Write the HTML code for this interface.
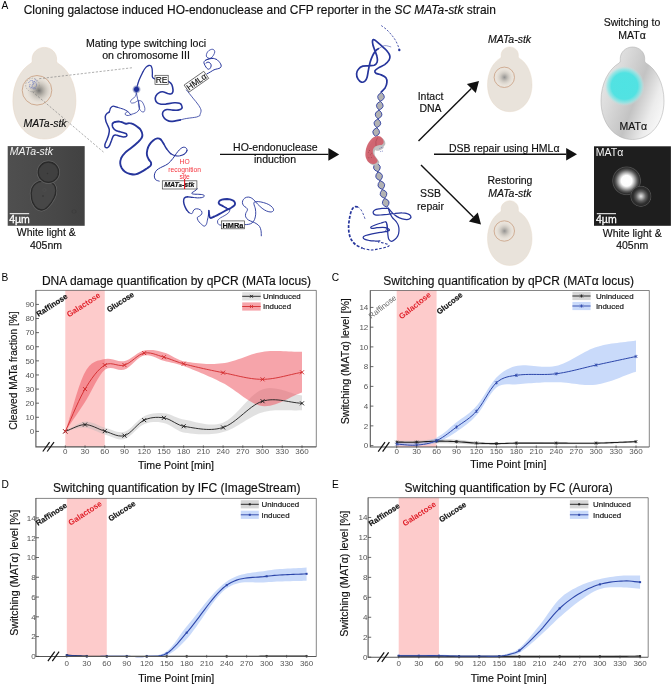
<!DOCTYPE html>
<html><head><meta charset="utf-8"><title>Figure</title>
<style>html,body{margin:0;padding:0;background:#fff}svg{display:block}text{font-family:'Liberation Sans',sans-serif}text[fill="#111"]{stroke:#111;stroke-width:.16px}</style>
</head><body>
<svg width="672" height="685" viewBox="0 0 672 685">
<rect width="672" height="685" fill="#fff"/>
<defs>
  <radialGradient id="nuc" cx="50%" cy="50%" r="50%">
    <stop offset="0" stop-color="#6e6e6e" stop-opacity="0.95"/>
    <stop offset="0.35" stop-color="#8a8780" stop-opacity="0.6"/>
    <stop offset="1" stop-color="#c8c2b8" stop-opacity="0"/>
  </radialGradient>
  <radialGradient id="nuc2" cx="50%" cy="50%" r="50%">
    <stop offset="0" stop-color="#8c8c8c" stop-opacity="0.95"/>
    <stop offset="0.3" stop-color="#a5a29d" stop-opacity="0.7"/>
    <stop offset="1" stop-color="#d8d2c8" stop-opacity="0"/>
  </radialGradient>
  <radialGradient id="cyan" cx="50%" cy="50%" r="50%">
    <stop offset="0" stop-color="#4fe3e3"/>
    <stop offset="0.66" stop-color="#52e2e2"/>
    <stop offset="0.85" stop-color="#8fe6e6" stop-opacity="0.8"/>
    <stop offset="1" stop-color="#c0e8e8" stop-opacity="0"/>
  </radialGradient>
  <linearGradient id="graycell" x1="0" y1="0.25" x2="1" y2="0.8">
    <stop offset="0" stop-color="#e9e9e9"/>
    <stop offset="0.25" stop-color="#dadada"/>
    <stop offset="0.55" stop-color="#c3c3c3"/>
    <stop offset="0.8" stop-color="#ececec"/>
    <stop offset="1" stop-color="#fbfbfb"/>
  </linearGradient>
  <radialGradient id="cen" cx="50%" cy="50%" r="50%">
    <stop offset="0" stop-color="#1f2f9a"/>
    <stop offset="0.45" stop-color="#1f2f9a"/>
    <stop offset="0.7" stop-color="#5060a8" stop-opacity="0.55"/>
    <stop offset="1" stop-color="#8088b0" stop-opacity="0"/>
  </radialGradient>
  <radialGradient id="glow1" cx="50%" cy="50%" r="50%">
    <stop offset="0" stop-color="#ffffff"/>
    <stop offset="0.36" stop-color="#fdfdfd"/>
    <stop offset="0.52" stop-color="#b8b8b8"/>
    <stop offset="0.72" stop-color="#5a5a5a"/>
    <stop offset="0.86" stop-color="#2e2e2e"/>
    <stop offset="0.93" stop-color="#4c4c4c"/>
    <stop offset="1" stop-color="#1e1e1e" stop-opacity="0"/>
  </radialGradient>
  <radialGradient id="glow2" cx="50%" cy="50%" r="50%">
    <stop offset="0" stop-color="#e6e6e6"/>
    <stop offset="0.18" stop-color="#b5b5b5"/>
    <stop offset="0.45" stop-color="#606060"/>
    <stop offset="0.7" stop-color="#303030"/>
    <stop offset="0.84" stop-color="#2a2a2a"/>
    <stop offset="0.92" stop-color="#505050"/>
    <stop offset="1" stop-color="#1e1e1e" stop-opacity="0"/>
  </radialGradient>
  <symbol id="yeast" viewBox="0 0 66 96" overflow="visible">
    <path d="M33,0 C40,0 45.8,5.4 45.8,12 C45.8,14.2 45.4,15.4 47,16.6 C58,23 66,38 66,56 C66,79 52,96 33,96 C14,96 0,79 0,56 C0,38 8,23 19,16.6 C20.6,15.4 20.2,14.2 20.2,12 C20.2,5.4 26,0 33,0 Z" fill="#e9e3db" stroke="#e6d6c6" stroke-width="0.6"/>
  </symbol>
</defs>

<!-- titles -->
<text x="1.4" y="8.9" font-size="10.2" fill="#000">A</text>
<text x="23.7" y="13.6" font-size="11.94" fill="#111">Cloning galactose induced HO-endonuclease and CFP reporter in the <tspan font-style="italic">SC MATa-stk</tspan> strain</text>

<!-- left yeast cell -->
<use href="#yeast" x="12.9" y="46.4" width="63" height="93.6"/>
<circle cx="39" cy="90.6" r="12.5" fill="url(#nuc)"/>
<circle cx="37" cy="90.3" r="14.8" fill="none" stroke="#c9a083" stroke-width="0.85"/>
<circle cx="32.5" cy="85" r="6.8" fill="none" stroke="#8a8a8a" stroke-width="0.5" stroke-dasharray="1.6,1.2"/>
<path d="M28.5,83 q1.5,-3 4,-2.4 q2.6,0.8 1,3.4 q-2.4,1.8 -0.6,3.6 q2.6,0.8 3.6,-1.8 q0.2,-3.6 -2.6,-4.6 m-3.6,2.8 q-1.8,2.6 0.8,4.6 m3.5,-9.5 q2,1 2.5,3 m-6,5 q2,2.5 4.5,1.5 m-3,-7 q1,2 0,3.5" fill="none" stroke="#3f55b8" stroke-width="0.55" stroke-dasharray="1.3,0.7"/>
<line x1="39.2" y1="78.7" x2="132.5" y2="67.7" stroke="#777" stroke-width="0.6" stroke-dasharray="2.2,1.6"/>
<line x1="32.3" y1="91.6" x2="104" y2="152.5" stroke="#777" stroke-width="0.6" stroke-dasharray="2.2,1.6"/>
<text x="45" y="126.8" font-size="10.5" font-style="italic" fill="#111" text-anchor="middle">MATa-stk</text>

<!-- left microscopy -->
<linearGradient id="micbg" x1="0" y1="0" x2="1" y2="0"><stop offset="0" stop-color="#4f4f4f"/><stop offset="0.6" stop-color="#484848"/><stop offset="1" stop-color="#414141"/></linearGradient>
<filter id="b04" x="-20%" y="-20%" width="140%" height="140%"><feGaussianBlur stdDeviation="0.45"/></filter>
<rect x="7.7" y="146.1" width="77" height="79.7" fill="url(#micbg)"/>
<g filter="url(#b04)">
<path d="M42.2,181.2 C47,180.6 51.5,181.8 54,184.6 C56.4,187.4 56.4,193.5 54,198 C52,202 50,204.5 48.2,206.4 C46,208.8 43.8,210.2 41.4,210 C38.6,209.8 36.6,208.6 35,206.4 C33.2,204 32,201.4 31.6,198.6 C31,195 31,191.4 32,188.6 C33.4,185 37.5,181.8 42.2,181.2Z" fill="#444" stroke="#626262" stroke-width="2.8"/>
<path d="M42.2,181.2 C47,180.6 51.5,181.8 54,184.6 C56.4,187.4 56.4,193.5 54,198 C52,202 50,204.5 48.2,206.4 C46,208.8 43.8,210.2 41.4,210 C38.6,209.8 36.6,208.6 35,206.4 C33.2,204 32,201.4 31.6,198.6 C31,195 31,191.4 32,188.6 C33.4,185 37.5,181.8 42.2,181.2Z" fill="#464646" stroke="#2a2a2a" stroke-width="1.3"/>
<circle cx="48.4" cy="172.2" r="10.2" fill="#3d3d3d" stroke="#626262" stroke-width="2.8"/>
<circle cx="48.4" cy="172.2" r="10.2" fill="#3f3f3f" stroke="#2a2a2a" stroke-width="1.3"/>
<circle cx="43" cy="196" r="0.7" fill="#2e2e2e"/><circle cx="44.5" cy="190" r="1.6" fill="none" stroke="#555" stroke-width="0.5"/>
<circle cx="47.5" cy="173.5" r="0.8" fill="#333"/>
<circle cx="74" cy="211.5" r="2" fill="none" stroke="#3c3c3c" stroke-width="0.7"/>
</g>
<text x="9.8" y="155.4" font-size="10.5" font-style="italic" fill="#f2f2f2">MATa-stk</text>
<line x1="9.7" y1="213.7" x2="29.2" y2="213.7" stroke="#fff" stroke-width="1"/>
<text x="9.2" y="223" font-size="10.5" fill="#fff" stroke="#fff" stroke-width="0.3">4µm</text>
<text x="46.3" y="235.8" font-size="10.5" fill="#111" text-anchor="middle">White light &amp;</text>
<text x="46" y="249" font-size="10.5" fill="#111" text-anchor="middle">405nm</text>

<!-- mating type text -->
<text x="146" y="46.6" font-size="10.6" fill="#111" text-anchor="middle">Mating type switching loci</text>
<text x="146" y="58.8" font-size="10.6" fill="#111" text-anchor="middle">on chromosome III</text>

<path d="M136.5,89.4 C136.8,88.2 137.6,84.2 138.4,82.0 C139.1,79.8 140.1,77.9 140.9,76.0 C141.8,74.2 142.6,72.3 143.5,70.8 C144.3,69.3 145.2,68.0 146.1,67.1 C147.0,66.2 148.0,65.7 148.8,65.5 C149.6,65.3 150.3,65.3 150.9,65.8 C151.4,66.3 151.8,67.4 152.1,68.6 C152.3,69.8 152.3,71.7 152.4,73.1 C152.4,74.4 152.1,75.9 152.4,76.8 C152.6,77.7 153.4,78.2 153.9,78.6 C154.4,79.0 155.1,79.1 155.4,79.2" fill="none" stroke="#26359c" stroke-width="1.3" stroke-linecap="round" stroke-linejoin="round" />
<path d="M168.2,81.2 C168.7,81.6 170.4,82.5 171.1,83.5 C171.9,84.5 172.3,85.8 172.6,87.2 C172.9,88.6 173.2,90.5 172.9,91.7 C172.6,92.8 171.6,93.8 170.7,94.0 C169.8,94.3 169.1,93.8 167.7,93.5 C166.3,93.1 164.0,91.8 162.5,91.7 C161.0,91.6 159.9,92.1 158.8,92.9 C157.7,93.6 156.4,95.0 155.8,96.1 C155.2,97.3 155.1,98.7 155.4,99.9 C155.6,101.0 156.3,102.1 157.3,102.8 C158.2,103.5 159.6,103.9 161.0,104.2 C162.4,104.4 163.2,104.4 165.5,104.2 C167.7,103.9 172.0,103.0 174.4,102.8 C176.8,102.7 178.4,102.8 179.6,103.3 C180.9,103.8 181.5,104.9 181.8,105.8 C182.2,106.7 182.2,108.1 181.5,108.8 C180.9,109.5 179.6,109.9 178.1,110.1 C176.7,110.3 174.8,110.2 172.9,110.1 C171.1,110.0 168.5,109.4 167.0,109.5 C165.4,109.7 164.4,110.3 163.7,111.0 C162.9,111.8 162.5,112.9 162.5,114.0 C162.5,115.1 163.2,116.7 164.0,117.7 C164.7,118.8 165.7,119.6 167.0,120.2 C168.2,120.9 169.2,121.5 171.4,121.4 C173.7,121.4 178.9,120.2 180.4,119.9" fill="none" stroke="#26359c" stroke-width="1.6" stroke-linecap="round" stroke-linejoin="round" />
<path d="M180.4,119.9 C181.3,119.7 184.3,118.8 186.3,118.5 C188.3,118.1 190.5,118.0 192.3,117.7 C194.0,117.5 195.4,117.3 196.7,117.0 C198.0,116.6 199.4,115.9 200.0,115.5 C200.6,115.0 200.0,115.3 200.1,114.4 C200.3,113.5 201.4,111.7 201.0,109.9 C200.6,108.2 199.0,105.8 197.7,104.0 C196.5,102.2 195.0,100.7 193.6,98.9 C192.2,97.2 190.6,95.1 189.4,93.6 C188.2,92.1 186.9,90.6 186.4,90.0" fill="none" stroke="#26359c" stroke-width="0.8" stroke-linecap="round" stroke-linejoin="round" />
<path d="M206.9,73.9 C207.5,73.6 209.3,72.6 210.5,71.9 C211.7,71.2 212.9,70.3 214.0,69.8 C215.2,69.2 216.6,69.1 217.6,68.8 C218.6,68.5 219.4,68.4 220.0,68.0 C220.6,67.5 221.1,66.9 221.2,66.2 C221.3,65.5 221.0,64.6 220.6,63.8 C220.2,63.0 219.4,62.1 218.8,61.4 C218.2,60.7 217.7,60.1 217.0,59.6 C216.3,59.2 215.5,58.9 214.6,58.7 C213.8,58.5 212.8,58.4 211.7,58.5 C210.6,58.6 209.2,58.9 208.1,59.3 C207.0,59.6 205.8,59.9 205.1,60.5 C204.4,61.0 203.9,61.8 203.9,62.6 C203.9,63.5 204.6,64.6 205.1,65.6 C205.6,66.5 206.2,67.7 206.9,68.3 C207.6,68.9 208.4,69.4 209.0,69.2 C209.7,69.0 210.5,67.9 210.8,67.1 C211.2,66.4 211.2,65.5 211.1,64.8 C210.9,64.0 210.4,63.3 209.9,62.9 C209.3,62.4 208.5,62.1 207.9,62.1 C207.2,62.2 206.3,62.9 206.0,63.1" fill="none" stroke="#26359c" stroke-width="1.0" stroke-linecap="round" stroke-linejoin="round" />
<path d="M205.7,60.2 C206.1,60.0 207.2,59.4 208.1,59.0 C209.0,58.7 210.2,58.5 211.1,57.9 C212.0,57.2 212.8,56.2 213.5,55.2 C214.1,54.2 214.7,52.8 214.8,51.9 C214.8,51.0 214.3,50.2 213.8,49.8 C213.3,49.3 212.5,49.1 211.7,49.3 C210.8,49.4 209.5,50.1 208.7,50.7 C207.9,51.3 207.3,52.2 206.9,53.1 C206.5,54.0 206.2,55.3 206.3,56.1 C206.5,56.9 207.2,57.5 207.9,57.9 C208.6,58.3 209.6,58.4 210.5,58.5 C211.3,58.5 212.5,58.2 212.9,58.1" fill="none" stroke="#26359c" stroke-width="0.8" stroke-linecap="round" stroke-linejoin="round" />
<path d="M136.5,89.4 C136.4,90.1 136.3,92.0 136.2,93.2 C136.0,94.3 136.0,95.5 135.4,96.4 C134.8,97.4 133.3,98.0 132.4,98.8 C131.6,99.6 130.7,100.6 130.5,101.3 C130.4,102.0 130.9,102.8 131.5,103.0 C132.2,103.2 133.4,103.1 134.5,102.7 C135.7,102.3 137.2,100.8 138.4,100.6 C139.6,100.4 140.7,100.6 141.7,101.3 C142.6,102.1 143.4,103.8 143.9,105.1 C144.4,106.3 144.9,107.7 144.9,108.8 C145.0,109.9 144.6,111.3 144.0,111.8 C143.5,112.2 142.4,112.1 141.7,111.6 C140.9,111.1 140.0,109.9 139.4,108.8 C138.9,107.7 138.5,106.3 138.4,105.1 C138.3,103.8 138.6,102.0 138.7,101.3" fill="none" stroke="#26359c" stroke-width="0.7" stroke-linecap="round" stroke-linejoin="round" />
<path d="M136.5,93.2 C136.6,94.0 137.1,96.6 137.5,98.4 C137.9,100.1 138.6,102.0 139.0,103.6 C139.3,105.2 139.8,106.7 139.6,108.0 C139.4,109.3 138.7,110.4 137.9,111.3 C137.2,112.2 136.0,112.7 135.0,113.2 C133.9,113.7 132.7,113.9 131.5,114.3 C130.4,114.7 129.3,115.4 128.3,115.5 C127.3,115.6 126.1,115.3 125.6,114.9 C125.1,114.5 125.0,113.8 125.3,113.2 C125.6,112.7 127.2,112.0 127.5,111.8" fill="none" stroke="#26359c" stroke-width="0.8" stroke-linecap="round" stroke-linejoin="round" />
<path d="M130.9,114.9 C130.4,114.3 129.2,112.5 127.9,111.6 C126.7,110.7 125.2,109.9 123.5,109.2 C121.7,108.5 119.3,107.9 117.5,107.4" fill="none" stroke="#26359c" stroke-width="1.0" stroke-linecap="round" stroke-linejoin="round"/>
<path d="M117.5,107.4 C115.8,106.9 114.2,106.1 113.1,106.2 C111.9,106.4 111.2,107.2 110.5,108.2 C109.9,109.1 110.0,111.0 109.3,111.9" fill="none" stroke="#26359c" stroke-width="1.25" stroke-linecap="round" stroke-linejoin="round"/>
<path d="M109.3,111.9 C108.7,112.8 107.3,112.9 106.7,113.7 C106.0,114.4 105.5,115.2 105.3,116.4 C105.2,117.6 105.4,119.3 105.8,120.8 C106.1,122.3 107.0,123.8 107.6,125.3 C108.2,126.8 109.2,128.1 109.3,129.8 C109.5,131.4 109.0,133.2 108.6,135.0 C108.2,136.7 107.3,138.6 106.7,140.2 C106.0,141.8 105.1,143.5 104.9,144.6 C104.7,145.8 104.9,146.8 105.3,147.3 C105.8,147.8 106.8,147.9 107.6,147.6 C108.3,147.3 109.0,146.6 109.6,145.4 C110.3,144.1 110.9,141.8 111.6,140.2 C112.2,138.6 112.8,136.6 113.5,135.7 C114.3,134.8 115.0,134.9 116.0,135.0 C117.1,135.0 118.5,135.8 119.8,136.2 C121.0,136.5 122.4,136.9 123.5,136.9 C124.6,136.9 126.0,136.7 126.5,136.2 C127.0,135.7 127.0,134.5 126.5,133.9 C126.0,133.4 124.7,133.1 123.5,132.7 C122.2,132.3 120.4,132.0 119.0,131.5" fill="none" stroke="#26359c" stroke-width="1.5" stroke-linecap="round" stroke-linejoin="round"/>
<path d="M119.0,131.5 C117.7,131.1 116.4,130.9 115.3,130.1 C114.2,129.3 113.1,127.9 112.6,126.8 C112.2,125.7 112.2,124.3 112.6,123.5" fill="none" stroke="#26359c" stroke-width="1.6" stroke-linecap="round" stroke-linejoin="round"/>
<path d="M112.6,123.5 C113.1,122.7 114.1,122.2 115.3,121.9" fill="none" stroke="#26359c" stroke-width="1.75" stroke-linecap="round" stroke-linejoin="round"/>
<path d="M115.3,121.9 C116.5,121.6 118.4,121.4 119.8,121.6 C121.1,121.7 122.4,122.4 123.5,122.8 C124.6,123.1 125.5,123.8 126.5,123.8 C127.5,123.9 128.3,123.0 129.4,123.1 C130.6,123.1 131.8,123.5 133.2,124.1 C134.5,124.7 136.1,125.8 137.3,126.8 C138.6,127.7 139.8,128.4 140.6,129.8 C141.4,131.1 142.3,133.5 142.4,135.0 C142.5,136.4 142.0,137.3 141.3,138.4 C140.7,139.5 140.0,140.1 138.4,141.7 C136.8,143.2 133.9,145.8 131.7,147.6 C129.4,149.5 126.7,151.1 125.0,152.8 C123.2,154.6 122.0,156.3 121.2,158.0 C120.5,159.8 120.2,161.6 120.2,163.2 C120.3,164.9 120.8,166.3 121.5,167.7 C122.3,169.1 123.5,170.7 125.0,171.7 C126.4,172.8 128.4,173.5 130.2,174.0 C131.9,174.4 133.5,174.8 135.4,174.4 C137.2,174.1 139.4,172.9 141.3,171.9 C143.3,170.8 145.7,169.2 147.3,168.2 C148.9,167.1 150.1,166.4 150.7,165.5 C151.3,164.5 151.3,163.5 151.0,162.5 C150.7,161.5 149.4,160.8 148.8,159.5 C148.1,158.3 147.2,156.7 147.0,155.1 C146.7,153.4 146.9,151.6 147.3,149.9 C147.7,148.1 148.5,146.2 149.5,144.6 C150.5,143.1 152.0,141.5 153.2,140.5 C154.5,139.4 156.0,138.6 157.3,138.4 C158.5,138.2 159.6,138.5 160.7,139.4" fill="none" stroke="#26359c" stroke-width="1.9" stroke-linecap="round" stroke-linejoin="round"/>
<path d="M160.7,139.4 C161.8,140.4 162.7,142.3 163.7,143.9" fill="none" stroke="#26359c" stroke-width="1.7" stroke-linecap="round" stroke-linejoin="round"/>
<path d="M163.7,143.9 C164.7,145.5 165.4,147.1 166.6,148.8" fill="none" stroke="#26359c" stroke-width="1.5" stroke-linecap="round" stroke-linejoin="round"/>
<path d="M166.6,148.8 C167.9,150.5 169.6,152.7 171.1,153.9" fill="none" stroke="#26359c" stroke-width="1.3" stroke-linecap="round" stroke-linejoin="round"/>
<path d="M171.1,153.9 C172.6,155.0 174.1,155.5 175.6,155.8 C177.1,156.1 178.5,156.0 180.0,155.7 C181.5,155.3 183.3,154.7 184.5,153.9 C185.7,153.0 186.8,151.6 187.0,150.6" fill="none" stroke="#26359c" stroke-width="1.15" stroke-linecap="round" stroke-linejoin="round"/>
<path d="M187.0,150.6 C187.3,149.6 186.7,148.5 186.0,147.9 C185.3,147.4 184.1,147.0 183.0,147.3 C181.9,147.6 180.4,148.8 179.3,149.9 C178.2,150.9 177.4,152.2 176.3,153.6 C175.3,155.0 174.4,156.6 173.0,158.3 C171.7,160.0 169.8,162.3 168.1,163.7 C166.4,165.1 164.5,165.7 162.9,166.5 C161.3,167.4 159.7,167.9 158.5,168.8 C157.2,169.6 156.2,170.5 155.5,171.7 C154.8,172.9 154.3,174.6 154.3,175.9 C154.3,177.2 154.7,178.7 155.5,179.6 C156.3,180.5 158.6,180.9 159.2,181.1" fill="none" stroke="#26359c" stroke-width="1.0" stroke-linecap="round" stroke-linejoin="round"/>
<path d="M197.3,188.9 C196.9,189.3 195.6,190.3 194.6,191.0 C193.7,191.7 191.8,192.6 191.7,193.1 C191.5,193.6 192.4,193.9 193.6,194.1 C194.8,194.3 197.2,194.2 198.8,194.3 C200.4,194.4 202.4,194.5 203.3,194.9 C204.2,195.2 204.4,195.9 204.2,196.4 C203.9,196.8 202.9,197.3 201.8,197.6 C200.6,197.8 198.9,197.9 197.3,197.9 C195.7,197.8 193.7,197.4 192.1,197.3" fill="none" stroke="#26359c" stroke-width="1.0" stroke-linecap="round" stroke-linejoin="round"/>
<path d="M192.1,197.3 C190.5,197.1 189.0,196.7 187.6,196.8" fill="none" stroke="#26359c" stroke-width="1.2" stroke-linecap="round" stroke-linejoin="round"/>
<path d="M187.6,196.8 C186.3,197.0 184.9,197.4 184.2,198.2 C183.6,198.9 183.6,200.3 183.6,201.6 C183.7,202.9 184.2,204.7 184.7,206.0 C185.2,207.4 185.9,208.6 186.6,209.8" fill="none" stroke="#26359c" stroke-width="1.45" stroke-linecap="round" stroke-linejoin="round"/>
<path d="M186.6,209.8 C187.4,210.9 188.2,212.1 189.1,212.7" fill="none" stroke="#26359c" stroke-width="1.2" stroke-linecap="round" stroke-linejoin="round"/>
<path d="M189.1,212.7 C190.1,213.4 191.4,213.8 192.1,213.5 C192.8,213.2 192.7,211.7 193.2,211.0 C193.7,210.2 194.2,209.3 195.1,209.0 C196.0,208.7 197.4,208.7 198.5,209.0 C199.6,209.3 200.9,210.1 201.5,211.0 C202.0,211.8 202.1,213.1 201.8,213.9 C201.5,214.8 200.3,215.4 199.6,216.0 C198.8,216.6 197.6,216.8 197.3,217.5 C197.1,218.2 197.5,219.5 198.1,220.5 C198.6,221.5 199.6,222.5 200.6,223.5 C201.6,224.4 203.1,225.9 204.0,226.1 C205.0,226.3 205.7,225.6 206.2,224.6 C206.8,223.7 207.1,221.8 207.4,220.2 C207.8,218.6 208.2,216.6 208.5,215.0" fill="none" stroke="#26359c" stroke-width="0.9" stroke-linecap="round" stroke-linejoin="round"/>
<path d="M208.5,215.0 C208.7,213.4 208.8,210.5 208.9,210.5" fill="none" stroke="#26359c" stroke-width="1.2" stroke-linecap="round" stroke-linejoin="round"/>
<path d="M208.9,210.5 C209.1,210.5 209.0,213.7 209.2,215.0" fill="none" stroke="#26359c" stroke-width="1.6" stroke-linecap="round" stroke-linejoin="round"/>
<path d="M209.2,215.0 C209.5,216.2 209.5,217.7 210.4,217.9 C211.3,218.2 212.9,217.1 214.4,216.5 C216.0,215.8 217.8,214.9 219.6,213.9 C221.5,212.9 223.7,211.5 225.6,210.5 C227.5,209.5 229.3,208.8 230.8,208.0 C232.3,207.1 233.9,206.2 234.5,205.3 C235.2,204.4 235.2,203.2 234.8,202.3 C234.4,201.5 233.6,200.6 232.3,200.1 C231.0,199.5 228.8,199.1 227.1,199.0 C225.3,199.0 223.2,199.2 221.9,199.6 C220.5,200.1 219.3,200.8 218.9,201.6 C218.5,202.3 218.7,203.4 219.3,204.1 C220.0,204.9 221.5,205.4 222.6,206.0" fill="none" stroke="#26359c" stroke-width="1.9" stroke-linecap="round" stroke-linejoin="round"/>
<path d="M222.6,206.0 C223.8,206.7 225.1,207.4 226.3,208.0" fill="none" stroke="#26359c" stroke-width="1.5" stroke-linecap="round" stroke-linejoin="round"/>
<path d="M226.3,208.0 C227.5,208.5 229.4,208.7 229.8,209.5" fill="none" stroke="#26359c" stroke-width="1.1" stroke-linecap="round" stroke-linejoin="round"/>
<path d="M229.8,209.5 C230.1,210.3 229.4,211.7 228.6,212.7 C227.8,213.7 226.2,214.5 224.9,215.4 C223.5,216.3 221.6,217.1 220.4,217.9 C219.2,218.8 218.1,219.6 217.7,220.5 C217.3,221.4 217.5,222.7 217.9,223.5 C218.2,224.2 219.0,224.7 219.6,224.9 C220.3,225.2 221.5,225.1 221.9,225.1" fill="none" stroke="#26359c" stroke-width="0.8" stroke-linecap="round" stroke-linejoin="round"/>
<path d="M244.6,224.6 C245.3,224.6 247.4,224.6 248.7,224.3 C249.9,224.0 251.1,223.7 252.1,222.9 C253.1,222.0 254.0,220.9 254.6,219.4 C255.2,218.0 255.5,216.0 255.7,214.2 C255.8,212.5 255.7,210.8 255.4,209.0 C255.1,207.3 254.0,205.0 253.9,203.8 C253.7,202.6 253.9,202.4 254.6,202.0 C255.4,201.7 256.8,201.5 258.3,201.6 C259.8,201.7 261.8,202.1 263.5,202.6 C265.3,203.1 267.3,203.7 268.8,204.6 C270.2,205.4 271.7,206.5 272.5,207.5 C273.3,208.5 273.8,209.8 273.5,210.5 C273.3,211.2 272.1,211.9 271.0,212.0 C269.8,212.1 268.0,211.6 266.5,211.0 C265.0,210.3 263.5,209.4 262.1,208.3 C260.6,207.1 259.0,205.5 257.6,204.1 C256.2,202.7 254.8,200.8 253.6,199.6 C252.3,198.5 251.3,197.8 250.1,197.4 C249.0,197.0 247.5,196.9 246.4,197.3 C245.3,197.6 244.1,198.5 243.5,199.3 C242.8,200.2 242.4,201.3 242.4,202.3 C242.4,203.4 242.8,204.7 243.5,205.6 C244.1,206.5 245.5,206.8 246.1,207.5 C246.8,208.2 247.5,208.8 247.5,209.8 C247.4,210.8 246.0,212.3 245.7,213.5 C245.4,214.7 245.3,215.8 245.7,216.9 C246.1,218.0 247.1,219.1 248.2,219.9 C249.3,220.7 251.1,221.1 252.4,221.7 C253.7,222.3 254.9,222.7 256.1,223.5 C257.3,224.2 258.7,225.2 259.5,226.4 C260.3,227.6 260.7,229.0 261.0,230.6 C261.3,232.2 261.3,234.9 261.3,235.8" fill="none" stroke="#26359c" stroke-width="0.9" stroke-linecap="round" stroke-linejoin="round" />
<circle cx="136.5" cy="89.4" r="4.6" fill="url(#cen)"/>
<rect x="155" y="75.3" width="13.2" height="9.2" fill="#fafafa" stroke="#444" stroke-width="0.7"/>
<text x="161.6" y="83" font-size="8.4" fill="#111" text-anchor="middle">RE</text>
<g transform="translate(196.4,81.7) rotate(-35)"><rect x="-12" y="-4.3" width="24" height="8.6" fill="#fafafa" stroke="#444" stroke-width="0.7"/><text x="0" y="3" font-size="8.3" fill="#111" text-anchor="middle">HMLα</text></g>
<rect x="162.3" y="180.8" width="34.6" height="8.2" fill="#fafafa" stroke="#444" stroke-width="0.7"/>
<text x="179.3" y="187.4" font-size="7.0" font-weight="bold" font-style="italic" fill="#111" text-anchor="middle">MAT<tspan font-size="5.6">a</tspan>-stk</text>
<line x1="184.6" y1="179" x2="184.6" y2="189" stroke="#e8101a" stroke-width="1.1"/>
<rect x="221.4" y="220.9" width="23.2" height="7.9" fill="#fafafa" stroke="#444" stroke-width="0.7"/>
<text x="233" y="227.5" font-size="7.4" font-weight="bold" fill="#111" text-anchor="middle">HMRa</text>
<text x="184.6" y="164.2" font-size="6.7" fill="#f5323c" text-anchor="middle">HO</text>
<text x="184.6" y="171.9" font-size="6.7" fill="#f5323c" text-anchor="middle">recognition</text>
<text x="184.6" y="178.6" font-size="6.7" fill="#f5323c" text-anchor="middle">site</text>
<path d="M381.2,92.1 C381.8,91.3 384.2,89.3 385.2,87.7 C386.1,86.1 386.8,84.1 386.9,82.4 C387.1,80.8 386.8,79.0 385.9,77.7 C384.9,76.4 382.8,75.6 381.2,74.9 C379.5,74.2 376.9,74.0 375.9,73.3 C374.9,72.6 374.6,71.6 375.0,70.7 C375.5,69.8 376.9,68.9 378.5,67.9 C380.1,66.9 382.9,65.8 384.7,64.6 C386.4,63.3 388.2,61.6 389.0,60.2 C389.9,58.8 390.1,57.6 389.9,56.2 C389.7,54.8 388.7,53.1 387.6,51.8 C386.6,50.4 385.2,49.2 383.8,47.9 C382.4,46.6 380.9,45.2 379.4,43.9 C377.9,42.6 375.8,40.5 374.7,39.9 C373.5,39.3 372.9,39.6 372.6,40.4 C372.3,41.2 372.5,43.0 372.9,44.8 C373.3,46.5 374.3,48.9 375.0,50.9 C375.7,52.9 376.8,55.1 377.1,57.0 C377.5,58.9 377.6,60.9 377.1,62.3 C376.6,63.7 375.5,64.7 374.2,65.3 C372.8,65.8 370.8,65.6 368.9,65.8 C367.0,65.9 364.5,65.6 362.8,66.1 C361.0,66.7 359.4,68.0 358.4,69.3 C357.4,70.5 356.7,72.1 356.6,73.7 C356.5,75.3 357.1,77.5 357.9,78.9 C358.7,80.3 360.2,81.7 361.4,82.1 C362.5,82.5 363.9,82.0 364.9,81.2 C365.8,80.4 366.6,79.0 367.1,77.2 C367.7,75.3 367.9,72.6 368.4,70.2 C368.9,67.7 369.5,64.6 370.1,62.3 C370.8,60.0 371.5,58.1 372.4,56.2 C373.3,54.3 374.5,52.2 375.6,50.9 C376.6,49.6 378.0,49.0 378.5,48.6" fill="none" stroke="#26359c" stroke-width="1.7" stroke-linecap="round" stroke-linejoin="round" />
<path d="M378.5,48.6 C379.6,48.1 382.6,45.9 384.7,45.6 C386.7,45.4 389.8,46.7 390.8,46.9" fill="none" stroke="#26359c" stroke-width="0.5" stroke-linecap="round" stroke-linejoin="round" />
<path d="M381.2,25.5 C382.0,26.2 384.7,27.8 386.4,29.4 C388.2,31.0 390.1,33.2 391.7,35.1 C393.3,37.1 394.7,38.8 396.0,41.3 C397.4,43.7 399.0,48.3 399.5,49.7" fill="none" stroke="#26359c" stroke-width="0.8" stroke-linecap="butt" stroke-linejoin="round" stroke-dasharray="2.2,1.5"/>
<circle cx="399.3" cy="50" r="1.2" fill="#26359c"/>
<g transform="translate(381.6,92.5) rotate(97.8)">
<path d="M0.00,0 Q4.44,-6.80 8.88,0 Q4.44,6.80 0.00,0Z" fill="#b2b2b2" stroke="#26359c" stroke-width="0.8"/>
<path d="M8.88,0 Q13.32,-6.80 17.76,0 Q13.32,6.80 8.88,0Z" fill="#b2b2b2" stroke="#26359c" stroke-width="0.8"/>
<path d="M17.76,0 Q22.20,-6.80 26.64,0 Q22.20,6.80 17.76,0Z" fill="#b2b2b2" stroke="#26359c" stroke-width="0.8"/>
<path d="M26.64,0 Q31.09,-6.80 35.53,0 Q31.09,6.80 26.64,0Z" fill="#b2b2b2" stroke="#26359c" stroke-width="0.8"/>
<path d="M35.53,0 Q39.97,-6.80 44.41,0 Q39.97,6.80 35.53,0Z" fill="#b2b2b2" stroke="#26359c" stroke-width="0.8"/>
</g>
<g transform="translate(375.8,163.0) rotate(76.0)">
<path d="M0.00,0 Q4.55,-6.80 9.11,0 Q4.55,6.80 0.00,0Z" fill="#b2b2b2" stroke="#26359c" stroke-width="0.8"/>
<path d="M9.11,0 Q13.66,-6.80 18.22,0 Q13.66,6.80 9.11,0Z" fill="#b2b2b2" stroke="#26359c" stroke-width="0.8"/>
<path d="M18.22,0 Q22.77,-6.80 27.33,0 Q22.77,6.80 18.22,0Z" fill="#b2b2b2" stroke="#26359c" stroke-width="0.8"/>
<path d="M27.33,0 Q31.88,-6.80 36.44,0 Q31.88,6.80 27.33,0Z" fill="#b2b2b2" stroke="#26359c" stroke-width="0.8"/>
<path d="M36.44,0 Q40.99,-6.80 45.55,0 Q40.99,6.80 36.44,0Z" fill="#b2b2b2" stroke="#26359c" stroke-width="0.8"/>
</g>
<path d="M377.7,135.9 C376.5,136.0 374.8,136.5 373.6,137.2 C372.4,137.9 371.4,139.0 370.4,140.2 C369.4,141.4 368.3,143.0 367.6,144.5 C366.9,146.0 366.4,147.3 366.0,149.0 C365.6,150.7 365.4,153.2 365.4,154.8 C365.4,156.4 365.8,157.4 366.2,158.6 C366.6,159.8 367.3,161.0 368.0,161.8 C368.7,162.6 369.7,163.2 370.6,163.6 C371.5,164.0 372.7,164.1 373.6,164.0 C374.5,163.9 375.5,163.5 376.2,163.0 C376.9,162.5 377.6,161.6 377.6,160.8 C377.6,160.0 377.0,159.3 376.4,158.4 C375.8,157.5 374.8,156.6 374.2,155.6 C373.6,154.6 373.1,153.5 372.9,152.4 C372.7,151.3 372.8,150.0 373.2,149.0 C373.6,148.0 374.3,147.0 375.2,146.4 C376.1,145.8 377.5,145.5 378.6,145.2 C379.7,144.9 381.2,145.2 382.0,144.8 C382.8,144.4 383.4,143.5 383.6,142.6 C383.8,141.7 383.5,140.4 383.0,139.4 C382.5,138.4 381.7,137.4 380.8,136.8 C379.9,136.2 378.9,135.8 377.7,135.9Z" transform="translate(1.7,1.5)" fill="#bdbdbd"/>
<ellipse cx="379.3" cy="148" rx="4.6" ry="2.3" transform="rotate(-18 379.3 148)" fill="#c4c4c4"/>
<path d="M377.7,135.9 C376.5,136.0 374.8,136.5 373.6,137.2 C372.4,137.9 371.4,139.0 370.4,140.2 C369.4,141.4 368.3,143.0 367.6,144.5 C366.9,146.0 366.4,147.3 366.0,149.0 C365.6,150.7 365.4,153.2 365.4,154.8 C365.4,156.4 365.8,157.4 366.2,158.6 C366.6,159.8 367.3,161.0 368.0,161.8 C368.7,162.6 369.7,163.2 370.6,163.6 C371.5,164.0 372.7,164.1 373.6,164.0 C374.5,163.9 375.5,163.5 376.2,163.0 C376.9,162.5 377.6,161.6 377.6,160.8 C377.6,160.0 377.0,159.3 376.4,158.4 C375.8,157.5 374.8,156.6 374.2,155.6 C373.6,154.6 373.1,153.5 372.9,152.4 C372.7,151.3 372.8,150.0 373.2,149.0 C373.6,148.0 374.3,147.0 375.2,146.4 C376.1,145.8 377.5,145.5 378.6,145.2 C379.7,144.9 381.2,145.2 382.0,144.8 C382.8,144.4 383.4,143.5 383.6,142.6 C383.8,141.7 383.5,140.4 383.0,139.4 C382.5,138.4 381.7,137.4 380.8,136.8 C379.9,136.2 378.9,135.8 377.7,135.9Z" fill="#d05f6b" fill-opacity="0.93"/>
<path d="M377.6,137.5 q-2.6,3.6 -1.6,8.5" fill="none" stroke="#a84652" stroke-width="0.6"/>
<circle cx="368.3" cy="152.2" r="0.38" fill="#7a2a35"/>
<circle cx="370.2" cy="154.8" r="0.38" fill="#7a2a35"/>
<circle cx="368.9" cy="157.8" r="0.38" fill="#7a2a35"/>
<circle cx="371.8" cy="153.2" r="0.38" fill="#7a2a35"/>
<circle cx="371.3" cy="157.4" r="0.38" fill="#7a2a35"/>
<circle cx="369.6" cy="150.5" r="0.38" fill="#7a2a35"/>
<path d="M379.5,148.6 l3.6,-1.8 M380.2,151.6 l3,-0.6" fill="none" stroke="#26359c" stroke-width="0.5" stroke-dasharray="1,0.8"/>
<path d="M388.2,208.1 C387.5,208.1 385.5,208.2 384.0,208.3 C382.6,208.5 380.8,208.5 379.3,208.8 C377.7,209.1 375.8,209.4 374.8,210.0 C373.7,210.6 373.0,211.8 373.1,212.6 C373.2,213.4 373.9,214.4 375.1,214.8 C376.3,215.2 378.4,215.1 380.5,215.0 C382.6,214.9 385.2,214.5 387.6,214.3 C390.0,214.0 392.4,213.7 394.8,213.5 C397.1,213.2 399.8,212.8 401.9,212.9 C404.0,212.9 405.8,213.1 407.3,213.7 C408.8,214.2 410.5,215.3 410.8,216.2 C411.2,217.1 410.3,218.5 409.3,219.0 C408.3,219.6 406.5,219.6 404.9,219.4 C403.3,219.2 401.2,218.6 399.5,217.9 C397.8,217.1 396.2,216.1 394.8,215.0 C393.3,213.9 392.0,212.6 391.0,211.4 C389.9,210.3 388.7,208.7 388.2,208.1" fill="none" stroke="#26359c" stroke-width="1.25" stroke-linecap="round" stroke-linejoin="round" />
<path d="M388.2,208.1 C388.5,208.9 389.1,211.3 389.8,212.9 C390.5,214.4 391.3,216.2 392.4,217.6 C393.4,219.0 395.0,220.1 396.0,221.4 C396.9,222.7 397.8,223.8 398.3,225.4 C398.8,226.9 399.1,228.9 399.0,230.7 C398.9,232.5 398.5,234.6 397.7,236.1 C397.0,237.6 395.8,238.8 394.8,239.6 C393.7,240.5 392.4,241.5 391.4,241.4 C390.4,241.4 389.4,240.4 388.8,239.3 C388.2,238.2 388.1,236.5 387.9,234.9 C387.7,233.3 387.8,231.2 387.6,229.5 C387.5,227.8 387.3,226.1 387.0,224.8 C386.7,223.5 386.8,222.1 385.8,221.8 C384.8,221.5 382.9,222.4 381.1,223.0 C379.3,223.5 376.8,224.3 375.1,225.0 C373.4,225.7 371.5,226.3 371.0,226.9 C370.4,227.5 370.9,228.2 371.9,228.3 C372.9,228.5 375.1,227.9 376.9,227.7 C378.7,227.6 381.1,227.3 382.9,227.4 C384.6,227.5 386.5,227.9 387.6,228.3 C388.7,228.8 389.6,229.6 389.5,230.1 C389.4,230.6 388.5,230.9 387.0,231.3 C385.5,231.7 383.0,232.0 380.5,232.4 C378.0,232.8 374.6,233.3 372.1,233.8 C369.7,234.3 367.1,234.9 365.6,235.5 C364.1,236.1 363.2,236.6 363.1,237.3 C363.0,237.9 363.9,238.8 365.0,239.4 C366.1,240.0 368.1,240.3 369.8,240.6 C371.4,240.9 373.4,240.9 375.1,241.0 C376.8,241.0 379.1,240.9 379.9,240.8" fill="none" stroke="#26359c" stroke-width="1.25" stroke-linecap="round" stroke-linejoin="round" />
<path d="M385.8,221.8 C386.1,222.4 387.0,224.2 387.1,225.4 C387.3,226.5 387.0,227.9 386.7,228.9 C386.3,229.9 385.5,230.9 385.2,231.3" fill="none" stroke="#26359c" stroke-width="0.8" stroke-linecap="round" stroke-linejoin="round" />
<path d="M365.0,218.8 C364.7,218.0 364.0,215.7 363.2,214.0 C362.5,212.4 361.4,210.2 360.5,209.0 C359.6,207.9 358.3,207.3 357.9,206.9" fill="none" stroke="#26359c" stroke-width="0.8" stroke-linecap="butt" stroke-linejoin="round" stroke-dasharray="2.4,1.6"/>
<path d="M357.9,206.9 C357.4,206.9 355.8,206.4 354.9,206.7 C354.0,207.0 353.2,207.7 352.5,208.7 C351.8,209.7 351.2,211.0 350.7,212.9 C350.2,214.7 349.6,217.6 349.3,220.0 C348.9,222.4 348.6,224.8 348.6,227.1 C348.6,229.5 348.8,232.1 349.3,234.3 C349.8,236.5 350.5,238.5 351.7,240.2 C352.8,242.0 354.2,243.7 356.1,245.0 C357.9,246.3 361.5,247.8 362.6,248.3" fill="none" stroke="#26359c" stroke-width="1.7" stroke-linecap="butt" stroke-linejoin="round" stroke-dasharray="3,1.6"/>
<path d="M362.6,248.3 C364.0,248.6 368.2,249.9 371.0,250.0 C373.7,250.1 376.7,249.3 379.3,248.8 C381.9,248.3 384.8,247.7 386.4,247.1 C388.1,246.6 388.8,246.2 389.0,245.7 C389.2,245.2 388.7,244.8 387.6,244.3 C386.6,243.8 384.4,243.3 382.9,242.9 C381.3,242.5 378.9,242.1 378.1,241.9" fill="none" stroke="#26359c" stroke-width="1.1" stroke-linecap="butt" stroke-linejoin="round" stroke-dasharray="2.6,1.6"/>
<line x1="220.0" y1="154.4" x2="328.4" y2="154.4" stroke="#111" stroke-width="1.4"/><polygon points="339.2,154.4 328.4,160.7 328.4,148.1" fill="#111"/>
<line x1="434.0" y1="154.3" x2="566.2" y2="154.3" stroke="#111" stroke-width="1.4"/><polygon points="577.0,154.3 566.2,160.6 566.2,148.0" fill="#111"/>
<line x1="418.5" y1="141.0" x2="471.3" y2="88.6" stroke="#111" stroke-width="1.4"/><polygon points="479.0,81.0 475.8,93.1 466.9,84.1" fill="#111"/>
<line x1="421.0" y1="165.0" x2="473.3" y2="216.9" stroke="#111" stroke-width="1.4"/><polygon points="481.0,224.5 468.9,221.4 477.8,212.4" fill="#111"/>
<text x="275.4" y="150.8" font-size="10.5" fill="#111" text-anchor="middle" >HO-endonuclease</text>
<text x="275" y="163.4" font-size="10.5" fill="#111" text-anchor="middle" >induction</text>
<text x="430.5" y="99.6" font-size="10.5" fill="#111" text-anchor="middle" >Intact</text>
<text x="430.5" y="111.8" font-size="10.5" fill="#111" text-anchor="middle" >DNA</text>
<text x="430.5" y="196.8" font-size="10.5" fill="#111" text-anchor="middle" >SSB</text>
<text x="430.5" y="209.6" font-size="10.5" fill="#111" text-anchor="middle" >repair</text>
<text x="504.2" y="151.5" font-size="10.5" fill="#111" text-anchor="middle" >DSB repair using HMLα</text>
<text x="509.5" y="42.5" font-size="10.5" fill="#111" text-anchor="middle" font-style="italic">MATa-stk</text>
<text x="510" y="184.4" font-size="10.5" fill="#111" text-anchor="middle" >Restoring</text>
<text x="509.8" y="197.3" font-size="10.5" fill="#111" text-anchor="middle" font-style="italic">MATa-stk</text>
<text x="632" y="26.0" font-size="10.5" fill="#111" text-anchor="middle" >Switching to</text>
<text x="632" y="38.7" font-size="10.5" fill="#111" text-anchor="middle" >MATα</text>
<use href="#yeast" x="487.5" y="46.8" width="44.5" height="65"/>
<circle cx="504.5" cy="77.3" r="8.5" fill="url(#nuc2)"/>
<circle cx="504.3" cy="77.3" r="10.2" fill="none" stroke="#c9a083" stroke-width="0.8"/>
<use href="#yeast" x="487.5" y="200.6" width="44.5" height="65"/>
<circle cx="504.5" cy="231" r="8.5" fill="url(#nuc2)"/>
<circle cx="504.3" cy="231" r="10.2" fill="none" stroke="#c9a083" stroke-width="0.8"/>
<path transform="translate(601,47) scale(0.9545,0.9635)" d="M33,0 C40,0 45.8,5.4 45.8,12 C45.8,14.2 45.4,15.4 47,16.6 C58,23 66,38 66,56 C66,79 52,96 33,96 C14,96 0,79 0,56 C0,38 8,23 19,16.6 C20.6,15.4 20.2,14.2 20.2,12 C20.2,5.4 26,0 33,0 Z" fill="url(#graycell)" stroke="#b0b0b0" stroke-width="0.6"/>
<circle cx="624.5" cy="86" r="20" fill="url(#cyan)"/>
<text x="633.3" y="129.6" font-size="10.5" fill="#111" text-anchor="middle">MATα</text>
<rect x="594" y="146.3" width="76.9" height="79.5" fill="#1e1e1e"/>
<circle cx="626.6" cy="180.8" r="15" fill="url(#glow1)"/>
<circle cx="640.9" cy="196.3" r="11" fill="url(#glow2)"/>
<text x="595.8" y="155.8" font-size="10.5" fill="#f4f4f4">MATα</text>
<line x1="596.8" y1="213.7" x2="616" y2="213.7" stroke="#fff" stroke-width="1"/>
<text x="596" y="223" font-size="10.5" fill="#fff" stroke="#fff" stroke-width="0.3">4µm</text>
<text x="632.2" y="236.5" font-size="10.5" fill="#111" text-anchor="middle">White light &amp;</text>
<text x="632.2" y="249" font-size="10.5" fill="#111" text-anchor="middle">405nm</text>
<g>
<rect x="65.30" y="290.40" width="39.45" height="156.50" fill="#fdcbcb"/>
<polygon points="65.30,431.40 67.96,429.96 70.62,428.36 73.28,426.70 75.94,425.10 78.60,423.68 81.26,422.54 83.92,421.82 86.58,421.61 89.24,421.93 91.90,422.64 94.56,423.62 97.21,424.74 99.87,425.88 102.53,426.91 105.19,427.71 107.85,428.56 110.51,429.55 113.17,430.56 115.83,431.44 118.49,432.06 121.15,432.29 123.81,431.99 126.47,430.99 129.13,429.23 131.79,426.93 134.45,424.33 137.11,421.68 139.77,419.21 142.43,417.17 145.09,415.76 147.75,414.74 150.41,413.97 153.07,413.45 155.72,413.13 158.38,412.99 161.04,413.02 163.70,413.18 166.36,413.58 169.02,414.34 171.68,415.32 174.34,416.42 177.00,417.53 179.66,418.52 182.32,419.29 184.98,419.77 187.64,420.29 190.30,420.87 192.96,421.49 195.62,422.13 198.28,422.74 200.94,423.31 203.60,423.81 206.26,424.21 208.92,424.48 211.58,424.60 214.23,424.54 216.89,424.26 219.55,423.75 222.21,422.97 224.87,421.86 227.53,420.30 230.19,418.34 232.85,416.06 235.51,413.53 238.17,410.80 240.83,407.97 243.49,405.09 246.15,402.23 248.81,399.47 251.47,396.87 254.13,394.50 256.79,392.44 259.45,390.76 262.11,389.51 264.77,388.71 267.43,388.24 270.09,388.07 272.74,388.15 275.40,388.45 278.06,388.93 280.72,389.57 283.38,390.31 286.04,391.12 288.70,391.98 291.36,392.84 294.02,393.66 296.68,394.41 299.34,395.06 302.00,395.56 302.00,410.23 299.34,410.34 296.68,410.38 294.02,410.38 291.36,410.34 288.70,410.28 286.04,410.23 283.38,410.20 280.72,410.19 278.06,410.24 275.40,410.36 272.74,410.55 270.09,410.84 267.43,411.25 264.77,411.79 262.11,412.48 259.45,413.37 256.79,414.47 254.13,415.75 251.47,417.17 248.81,418.69 246.15,420.29 243.49,421.92 240.83,423.56 238.17,425.17 235.51,426.72 232.85,428.17 230.19,429.49 227.53,430.64 224.87,431.60 222.21,432.33 219.55,432.91 216.89,433.39 214.23,433.76 211.58,434.04 208.92,434.22 206.26,434.32 203.60,434.34 200.94,434.29 198.28,434.17 195.62,433.98 192.96,433.74 190.30,433.45 187.64,433.11 184.98,432.73 182.32,432.24 179.66,431.25 177.00,429.86 174.34,428.23 171.68,426.54 169.02,424.98 166.36,423.70 163.70,422.89 161.04,422.40 158.38,422.08 155.72,421.94 153.07,422.02 150.41,422.32 147.75,422.88 145.09,423.72 142.43,424.96 139.77,426.87 137.11,429.23 134.45,431.79 131.79,434.30 129.13,436.54 126.47,438.24 123.81,439.17 121.15,439.42 118.49,439.16 115.83,438.52 113.17,437.62 110.51,436.59 107.85,435.55 105.19,434.64 102.53,433.77 99.87,432.72 97.21,431.55 94.56,430.38 91.90,429.30 89.24,428.40 86.58,427.78 83.92,427.54 81.26,427.65 78.60,428.04 75.94,428.63 73.28,429.34 70.62,430.09 67.96,430.80 65.30,431.40" fill="#b8b8b8" fill-opacity="0.42"/>
<polygon points="65.30,431.40 67.96,423.05 70.62,414.19 73.28,405.18 75.94,396.35 78.60,388.03 81.26,380.57 83.92,374.31 86.58,369.52 89.24,366.02 91.90,363.55 94.56,361.90 97.21,360.84 99.87,360.13 102.53,359.56 105.19,358.90 107.85,358.63 110.51,358.91 113.17,359.52 115.83,360.27 118.49,360.95 121.15,361.34 123.81,361.25 126.47,360.51 129.13,359.21 131.79,357.54 134.45,355.69 137.11,353.85 139.77,352.20 142.43,350.94 145.09,350.23 147.75,349.92 150.41,349.90 153.07,350.12 155.72,350.53 158.38,351.08 161.04,351.75 163.70,352.46 166.36,353.36 169.02,354.57 171.68,355.97 174.34,357.44 177.00,358.84 179.66,360.06 182.32,360.97 184.98,361.51 187.64,361.96 190.30,362.37 192.96,362.74 195.62,363.06 198.28,363.35 200.94,363.58 203.60,363.76 206.26,363.89 208.92,363.96 211.58,363.97 214.23,363.91 216.89,363.79 219.55,363.61 222.21,363.35 224.87,363.00 227.53,362.49 230.19,361.85 232.85,361.10 235.51,360.26 238.17,359.34 240.83,358.39 243.49,357.41 246.15,356.44 248.81,355.49 251.47,354.58 254.13,353.75 256.79,353.00 259.45,352.38 262.11,351.89 264.77,351.53 267.43,351.28 270.09,351.11 272.74,351.01 275.40,350.97 278.06,350.99 280.72,351.05 283.38,351.15 286.04,351.26 288.70,351.39 291.36,351.52 294.02,351.63 296.68,351.73 299.34,351.80 302.00,351.82 302.00,392.46 299.34,393.45 296.68,394.57 294.02,395.79 291.36,397.08 288.70,398.39 286.04,399.71 283.38,400.99 280.72,402.20 278.06,403.31 275.40,404.28 272.74,405.09 270.09,405.69 267.43,406.06 264.77,406.15 262.11,405.94 259.45,405.40 256.79,404.55 254.13,403.42 251.47,402.06 248.81,400.50 246.15,398.79 243.49,396.96 240.83,395.05 238.17,393.10 235.51,391.14 232.85,389.23 230.19,387.39 227.53,385.66 224.87,384.09 222.21,382.70 219.55,381.38 216.89,380.09 214.23,378.83 211.58,377.60 208.92,376.40 206.26,375.22 203.60,374.06 200.94,372.93 198.28,371.83 195.62,370.74 192.96,369.67 190.30,368.62 187.64,367.59 184.98,366.57 182.32,365.59 179.66,364.73 177.00,363.99 174.34,363.33 171.68,362.72 169.02,362.11 166.36,361.48 163.70,360.79 161.04,359.88 158.38,358.76 155.72,357.58 153.07,356.49 150.41,355.63 147.75,355.15 145.09,355.19 142.43,355.94 139.77,357.49 137.11,359.59 134.45,362.01 131.79,364.48 129.13,366.78 126.47,368.64 123.81,369.81 121.15,370.08 118.49,369.69 115.83,368.98 113.17,368.26 110.51,367.90 107.85,368.21 105.19,369.54 102.53,372.09 99.87,375.63 97.21,379.92 94.56,384.68 91.90,389.69 89.24,394.67 86.58,399.39 83.92,403.63 81.26,407.70 78.60,411.71 75.94,415.67 73.28,419.60 70.62,423.52 67.96,427.44 65.30,431.40" fill="#ee5a64" fill-opacity="0.55"/>
<polyline points="65.30,431.40 67.96,430.38 70.62,429.22 73.28,428.01 75.94,426.86 78.60,425.85 81.26,425.09 83.92,424.68 86.58,424.70 89.24,425.17 91.90,425.99 94.56,427.03 97.21,428.18 99.87,429.35 102.53,430.40 105.19,431.25 107.85,432.15 110.51,433.19 113.17,434.23 115.83,435.15 118.49,435.80 121.15,436.06 123.81,435.80 126.47,434.82 129.13,433.07 131.79,430.77 134.45,428.19 137.11,425.54 139.77,423.10 142.43,421.09 145.09,419.73 147.75,418.76 150.41,418.06 153.07,417.60 155.72,417.37 158.38,417.34 161.04,417.50 163.70,417.82 166.36,418.46 169.02,419.52 171.68,420.87 174.34,422.35 177.00,423.79 179.66,425.05 182.32,425.97 184.98,426.47 187.64,426.92 190.30,427.38 192.96,427.83 195.62,428.26 198.28,428.64 200.94,428.97 203.60,429.23 206.26,429.40 208.92,429.47 211.58,429.42 214.23,429.24 216.89,428.90 219.55,428.40 222.21,427.72 224.87,426.80 227.53,425.56 230.19,424.01 232.85,422.23 235.51,420.26 238.17,418.15 240.83,415.95 243.49,413.71 246.15,411.49 248.81,409.33 251.47,407.30 254.13,405.43 256.79,403.78 259.45,402.40 262.11,401.35 264.77,400.61 267.43,400.12 270.09,399.84 272.74,399.74 275.40,399.79 278.06,399.98 280.72,400.28 283.38,400.65 286.04,401.08 288.70,401.54 291.36,402.00 294.02,402.43 296.68,402.81 299.34,403.12 302.00,403.32" fill="none" stroke="#1c1c1c" stroke-width="0.9"/>
<path d="M63.30,429.40 L67.30,433.40 M63.30,433.40 L67.30,429.40" stroke="#1c1c1c" stroke-width="0.95" fill="none"/>
<path d="M83.02,422.63 L87.02,426.63 M83.02,426.63 L87.02,422.63" stroke="#1c1c1c" stroke-width="0.95" fill="none"/>
<path d="M102.75,429.12 L106.75,433.12 M102.75,433.12 L106.75,429.12" stroke="#1c1c1c" stroke-width="0.95" fill="none"/>
<path d="M122.47,433.63 L126.47,437.63 M122.47,437.63 L126.47,433.63" stroke="#1c1c1c" stroke-width="0.95" fill="none"/>
<path d="M142.20,418.11 L146.20,422.11 M142.20,422.11 L146.20,418.11" stroke="#1c1c1c" stroke-width="0.95" fill="none"/>
<path d="M161.93,415.85 L165.93,419.85 M161.93,419.85 L165.93,415.85" stroke="#1c1c1c" stroke-width="0.95" fill="none"/>
<path d="M181.65,424.25 L185.65,428.25 M181.65,428.25 L185.65,424.25" stroke="#1c1c1c" stroke-width="0.95" fill="none"/>
<path d="M221.10,425.45 L225.10,429.45 M221.10,429.45 L225.10,425.45" stroke="#1c1c1c" stroke-width="0.95" fill="none"/>
<path d="M260.55,399.20 L264.55,403.20 M260.55,403.20 L264.55,399.20" stroke="#1c1c1c" stroke-width="0.95" fill="none"/>
<path d="M300.00,401.32 L304.00,405.32 M300.00,405.32 L304.00,401.32" stroke="#1c1c1c" stroke-width="0.95" fill="none"/>
<polyline points="65.30,431.40 67.96,425.55 70.62,419.50 73.28,413.38 75.94,407.34 78.60,401.50 81.26,396.01 83.92,390.99 86.58,386.50 89.24,382.31 91.90,378.41 94.56,374.85 97.21,371.67 99.87,368.91 102.53,366.61 105.19,364.83 107.85,363.87 110.51,363.69 113.17,364.03 115.83,364.62 118.49,365.20 121.15,365.50 123.81,365.26 126.47,364.29 129.13,362.74 131.79,360.82 134.45,358.74 137.11,356.71 139.77,354.93 142.43,353.61 145.09,352.94 147.75,352.82 150.41,353.10 153.07,353.69 155.72,354.49 158.38,355.39 161.04,356.30 163.70,357.12 166.36,357.90 169.02,358.79 171.68,359.74 174.34,360.73 177.00,361.70 179.66,362.62 182.32,363.45 184.98,364.16 187.64,364.84 190.30,365.51 192.96,366.16 195.62,366.80 198.28,367.42 200.94,368.03 203.60,368.63 206.26,369.22 208.92,369.79 211.58,370.36 214.23,370.91 216.89,371.46 219.55,372.00 222.21,372.53 224.87,373.06 227.53,373.62 230.19,374.21 232.85,374.81 235.51,375.42 238.17,376.02 240.83,376.60 243.49,377.15 246.15,377.66 248.81,378.13 251.47,378.53 254.13,378.86 256.79,379.11 259.45,379.28 262.11,379.33 264.77,379.28 267.43,379.11 270.09,378.84 272.74,378.48 275.40,378.05 278.06,377.55 280.72,377.00 283.38,376.41 286.04,375.80 288.70,375.17 291.36,374.55 294.02,373.93 296.68,373.34 299.34,372.78 302.00,372.28" fill="none" stroke="#d22a2c" stroke-width="0.9"/>
<path d="M63.30,429.40 L67.30,433.40 M63.30,433.40 L67.30,429.40" stroke="#d22a2c" stroke-width="0.95" fill="none"/>
<path d="M83.02,387.07 L87.02,391.07 M83.02,391.07 L87.02,387.07" stroke="#d22a2c" stroke-width="0.95" fill="none"/>
<path d="M102.75,363.08 L106.75,367.08 M102.75,367.08 L106.75,363.08" stroke="#d22a2c" stroke-width="0.95" fill="none"/>
<path d="M122.47,363.08 L126.47,367.08 M122.47,367.08 L126.47,363.08" stroke="#d22a2c" stroke-width="0.95" fill="none"/>
<path d="M142.20,351.09 L146.20,355.09 M142.20,355.09 L146.20,351.09" stroke="#d22a2c" stroke-width="0.95" fill="none"/>
<path d="M161.93,355.18 L165.93,359.18 M161.93,359.18 L165.93,355.18" stroke="#d22a2c" stroke-width="0.95" fill="none"/>
<path d="M181.65,361.81 L185.65,365.81 M181.65,365.81 L185.65,361.81" stroke="#d22a2c" stroke-width="0.95" fill="none"/>
<path d="M221.10,370.70 L225.10,374.70 M221.10,374.70 L225.10,370.70" stroke="#d22a2c" stroke-width="0.95" fill="none"/>
<path d="M260.55,377.33 L264.55,381.33 M260.55,381.33 L264.55,377.33" stroke="#d22a2c" stroke-width="0.95" fill="none"/>
<path d="M300.00,370.28 L304.00,374.28 M300.00,374.28 L304.00,370.28" stroke="#d22a2c" stroke-width="0.95" fill="none"/>
<path d="M35.90,290.40 H316.30 V446.90" fill="none" stroke="#333" stroke-width="0.6"/>
<path d="M35.90,290.10 V446.90 H316.30" fill="none" stroke="#555" stroke-width="1.1"/>
<line x1="35.90" x2="39.00" y1="431.40" y2="431.40" stroke="#444" stroke-width="0.8"/>
<text x="34.30" y="434.20" font-size="8" fill="#555" text-anchor="end">0</text>
<line x1="35.90" x2="39.00" y1="417.29" y2="417.29" stroke="#444" stroke-width="0.8"/>
<text x="34.30" y="420.09" font-size="8" fill="#555" text-anchor="end">10</text>
<line x1="35.90" x2="39.00" y1="403.18" y2="403.18" stroke="#444" stroke-width="0.8"/>
<text x="34.30" y="405.98" font-size="8" fill="#555" text-anchor="end">20</text>
<line x1="35.90" x2="39.00" y1="389.07" y2="389.07" stroke="#444" stroke-width="0.8"/>
<text x="34.30" y="391.87" font-size="8" fill="#555" text-anchor="end">30</text>
<line x1="35.90" x2="39.00" y1="374.96" y2="374.96" stroke="#444" stroke-width="0.8"/>
<text x="34.30" y="377.76" font-size="8" fill="#555" text-anchor="end">40</text>
<line x1="35.90" x2="39.00" y1="360.85" y2="360.85" stroke="#444" stroke-width="0.8"/>
<text x="34.30" y="363.65" font-size="8" fill="#555" text-anchor="end">50</text>
<line x1="35.90" x2="39.00" y1="346.74" y2="346.74" stroke="#444" stroke-width="0.8"/>
<text x="34.30" y="349.54" font-size="8" fill="#555" text-anchor="end">60</text>
<line x1="35.90" x2="39.00" y1="332.63" y2="332.63" stroke="#444" stroke-width="0.8"/>
<text x="34.30" y="335.43" font-size="8" fill="#555" text-anchor="end">70</text>
<line x1="35.90" x2="39.00" y1="318.52" y2="318.52" stroke="#444" stroke-width="0.8"/>
<text x="34.30" y="321.32" font-size="8" fill="#555" text-anchor="end">80</text>
<line x1="35.90" x2="39.00" y1="304.41" y2="304.41" stroke="#444" stroke-width="0.8"/>
<text x="34.30" y="307.21" font-size="8" fill="#555" text-anchor="end">90</text>
<line x1="65.30" x2="65.30" y1="445.30" y2="448.10" stroke="#444" stroke-width="0.7"/>
<text x="65.30" y="454.20" font-size="8" fill="#555" text-anchor="middle">0</text>
<line x1="85.02" x2="85.02" y1="445.30" y2="448.10" stroke="#444" stroke-width="0.7"/>
<text x="85.02" y="454.20" font-size="8" fill="#555" text-anchor="middle">30</text>
<line x1="104.75" x2="104.75" y1="445.30" y2="448.10" stroke="#444" stroke-width="0.7"/>
<text x="104.75" y="454.20" font-size="8" fill="#555" text-anchor="middle">60</text>
<line x1="124.47" x2="124.47" y1="445.30" y2="448.10" stroke="#444" stroke-width="0.7"/>
<text x="124.47" y="454.20" font-size="8" fill="#555" text-anchor="middle">90</text>
<line x1="144.20" x2="144.20" y1="445.30" y2="448.10" stroke="#444" stroke-width="0.7"/>
<text x="144.20" y="454.20" font-size="8" fill="#555" text-anchor="middle">120</text>
<line x1="163.93" x2="163.93" y1="445.30" y2="448.10" stroke="#444" stroke-width="0.7"/>
<text x="163.93" y="454.20" font-size="8" fill="#555" text-anchor="middle">150</text>
<line x1="183.65" x2="183.65" y1="445.30" y2="448.10" stroke="#444" stroke-width="0.7"/>
<text x="183.65" y="454.20" font-size="8" fill="#555" text-anchor="middle">180</text>
<line x1="203.38" x2="203.38" y1="445.30" y2="448.10" stroke="#444" stroke-width="0.7"/>
<text x="203.38" y="454.20" font-size="8" fill="#555" text-anchor="middle">210</text>
<line x1="223.10" x2="223.10" y1="445.30" y2="448.10" stroke="#444" stroke-width="0.7"/>
<text x="223.10" y="454.20" font-size="8" fill="#555" text-anchor="middle">240</text>
<line x1="242.82" x2="242.82" y1="445.30" y2="448.10" stroke="#444" stroke-width="0.7"/>
<text x="242.82" y="454.20" font-size="8" fill="#555" text-anchor="middle">270</text>
<line x1="262.55" x2="262.55" y1="445.30" y2="448.10" stroke="#444" stroke-width="0.7"/>
<text x="262.55" y="454.20" font-size="8" fill="#555" text-anchor="middle">300</text>
<line x1="282.27" x2="282.27" y1="445.30" y2="448.10" stroke="#444" stroke-width="0.7"/>
<text x="282.27" y="454.20" font-size="8" fill="#555" text-anchor="middle">330</text>
<line x1="302.00" x2="302.00" y1="445.30" y2="448.10" stroke="#444" stroke-width="0.7"/>
<text x="302.00" y="454.20" font-size="8" fill="#555" text-anchor="middle">360</text>
<line x1="42.80" y1="451.50" x2="49.60" y2="442.10" stroke="#111" stroke-width="1.2"/>
<line x1="47.20" y1="451.50" x2="54.00" y2="442.10" stroke="#111" stroke-width="1.2"/>
<text x="176.00" y="468.60" font-size="10.6" fill="#111" text-anchor="middle">Time Point [min]</text>
<text transform="translate(17.20,370.60) rotate(-90)" font-size="10.1" fill="#111" text-anchor="middle">Cleaved MATa fraction [%]</text>
<text x="176.50" y="284.60" font-size="12.0" fill="#111" text-anchor="middle">DNA damage quantification by qPCR (MATa locus)</text>
<text x="1.40" y="281.10" font-size="10.2" fill="#000">B</text>
<text transform="translate(38.50,317.00) rotate(-33)" font-size="7.75" font-weight="bold" fill="#111">Raffinose</text>
<text transform="translate(68.90,317.50) rotate(-33)" font-size="8.0" font-weight="bold" fill="#e0202a">Galactose</text>
<text transform="translate(109.00,312.50) rotate(-33)" font-size="7.75" font-weight="bold" fill="#111">Glucose</text>
<rect x="242.20" y="292.20" width="18.50" height="8.2" fill="#b8b8b8" fill-opacity="0.42"/>
<line x1="242.20" x2="260.70" y1="296.30" y2="296.30" stroke="#1c1c1c" stroke-width="0.9"/>
<path d="M250.05,294.90 L252.85,297.70 M250.05,297.70 L252.85,294.90" stroke="#1c1c1c" stroke-width="0.95" fill="none"/>
<text x="263.00" y="299.10" font-size="7.9" fill="#111">Uninduced</text>
<rect x="242.20" y="302.40" width="18.50" height="8.2" fill="#ee5a64" fill-opacity="0.55"/>
<line x1="242.20" x2="260.70" y1="306.50" y2="306.50" stroke="#d22a2c" stroke-width="0.9"/>
<path d="M250.05,305.10 L252.85,307.90 M250.05,307.90 L252.85,305.10" stroke="#d22a2c" stroke-width="0.95" fill="none"/>
<text x="263.00" y="309.30" font-size="7.9" fill="#111">Induced</text>
</g>
<g>
<rect x="396.70" y="290.50" width="39.88" height="156.50" fill="#fdcbcb"/>
<polygon points="396.70,440.67 399.39,440.68 402.08,440.70 404.77,440.74 407.46,440.76 410.14,440.77 412.83,440.76 415.52,440.70 418.21,440.59 420.90,440.41 423.59,440.18 426.28,439.93 428.97,439.67 431.65,439.45 434.34,439.27 437.03,439.17 439.72,439.14 442.41,439.14 445.10,439.18 447.79,439.25 450.48,439.36 453.16,439.49 455.85,439.64 458.54,439.82 461.23,440.06 463.92,440.34 466.61,440.65 469.30,440.95 471.99,441.25 474.67,441.51 477.36,441.72 480.05,441.91 482.74,442.09 485.43,442.25 488.12,442.38 490.81,442.50 493.50,442.58 496.18,442.64 498.87,442.64 501.56,442.60 504.25,442.52 506.94,442.42 509.63,442.32 512.32,442.23 515.01,442.16 517.69,442.14 520.38,442.12 523.07,442.11 525.76,442.10 528.45,442.10 531.14,442.10 533.83,442.10 536.52,442.10 539.20,442.11 541.89,442.12 544.58,442.13 547.27,442.13 549.96,442.14 552.65,442.14 555.34,442.15 558.03,442.15 560.71,442.15 563.40,442.17 566.09,442.18 568.78,442.20 571.47,442.21 574.16,442.23 576.85,442.24 579.54,442.25 582.22,442.26 584.91,442.25 587.60,442.24 590.29,442.22 592.98,442.19 595.67,442.15 598.36,442.10 601.05,442.03 603.73,441.96 606.42,441.87 609.11,441.77 611.80,441.67 614.49,441.56 617.18,441.45 619.87,441.34 622.56,441.22 625.24,441.10 627.93,440.99 630.62,440.88 633.31,440.77 636.00,440.67 636.00,442.64 633.31,442.74 630.62,442.85 627.93,442.96 625.24,443.08 622.56,443.19 619.87,443.31 617.18,443.42 614.49,443.54 611.80,443.64 609.11,443.75 606.42,443.84 603.73,443.93 601.05,444.01 598.36,444.07 595.67,444.13 592.98,444.17 590.29,444.20 587.60,444.22 584.91,444.23 582.22,444.23 579.54,444.22 576.85,444.22 574.16,444.20 571.47,444.19 568.78,444.17 566.09,444.15 563.40,444.14 560.71,444.13 558.03,444.12 555.34,444.12 552.65,444.12 549.96,444.11 547.27,444.11 544.58,444.10 541.89,444.09 539.20,444.09 536.52,444.08 533.83,444.07 531.14,444.07 528.45,444.07 525.76,444.07 523.07,444.08 520.38,444.09 517.69,444.11 515.01,444.13 512.32,444.19 509.63,444.26 506.94,444.34 504.25,444.42 501.56,444.50 498.87,444.57 496.18,444.62 493.50,444.65 490.81,444.68 488.12,444.70 485.43,444.71 482.74,444.70 480.05,444.68 477.36,444.63 474.67,444.56 471.99,444.45 469.30,444.31 466.61,444.16 463.92,444.00 461.23,443.85 458.54,443.71 455.85,443.60 453.16,443.50 450.48,443.41 447.79,443.32 445.10,443.25 442.41,443.19 439.72,443.15 437.03,443.13 434.34,443.15 431.65,443.20 428.97,443.27 426.28,443.36 423.59,443.45 420.90,443.54 418.21,443.60 415.52,443.64 412.83,443.66 410.14,443.66 407.46,443.66 404.77,443.65 402.08,443.64 399.39,443.63 396.70,443.63" fill="#bdbdbd" fill-opacity="0.6"/>
<polygon points="396.70,442.15 399.39,442.25 402.08,442.42 404.77,442.61 407.46,442.78 410.14,442.88 412.83,442.88 415.52,442.75 418.21,442.46 420.90,442.13 423.59,441.74 426.28,441.24 428.97,440.60 431.65,439.78 434.34,438.75 437.03,437.47 439.72,435.87 442.41,434.00 445.10,431.90 447.79,429.67 450.48,427.37 453.16,425.07 455.85,422.84 458.54,420.76 461.23,418.81 463.92,416.90 466.61,414.96 469.30,412.89 471.99,410.61 474.67,408.04 477.36,405.07 480.05,401.50 482.74,397.45 485.43,393.15 488.12,388.81 490.81,384.64 493.50,380.88 496.18,377.73 498.87,375.17 501.56,372.94 504.25,371.04 506.94,369.45 509.63,368.14 512.32,367.11 515.01,366.34 517.69,365.81 520.38,365.49 523.07,365.35 525.76,365.35 528.45,365.47 531.14,365.67 533.83,365.92 536.52,366.19 539.20,366.44 541.89,366.66 544.58,366.81 547.27,366.85 549.96,366.76 552.65,366.50 555.34,366.05 558.03,365.38 560.71,364.50 563.40,363.44 566.09,362.24 568.78,360.91 571.47,359.49 574.16,358.01 576.85,356.49 579.54,354.97 582.22,353.46 584.91,352.01 587.60,350.63 590.29,349.36 592.98,348.22 595.67,347.24 598.36,346.42 601.05,345.70 603.73,345.08 606.42,344.53 609.11,344.04 611.80,343.62 614.49,343.24 617.18,342.89 619.87,342.57 622.56,342.26 625.24,341.95 627.93,341.62 630.62,341.28 633.31,340.90 636.00,340.48 636.00,371.67 633.31,372.58 630.62,373.54 627.93,374.54 625.24,375.57 622.56,376.61 619.87,377.65 617.18,378.68 614.49,379.68 611.80,380.63 609.11,381.53 606.42,382.36 603.73,383.10 601.05,383.74 598.36,384.26 595.67,384.66 592.98,384.91 590.29,385.02 587.60,385.01 584.91,384.89 582.22,384.70 579.54,384.43 576.85,384.12 574.16,383.78 571.47,383.43 568.78,383.08 566.09,382.77 563.40,382.50 560.71,382.29 558.03,382.16 555.34,382.14 552.65,382.15 549.96,382.20 547.27,382.27 544.58,382.37 541.89,382.49 539.20,382.63 536.52,382.79 533.83,382.97 531.14,383.16 528.45,383.37 525.76,383.58 523.07,383.81 520.38,384.04 517.69,384.28 515.01,384.49 512.32,384.47 509.63,384.34 506.94,384.27 504.25,384.41 501.56,384.93 498.87,385.98 496.18,387.74 493.50,390.42 490.81,393.92 488.12,397.97 485.43,402.30 482.74,406.66 480.05,410.77 477.36,414.36 474.67,417.31 471.99,419.94 469.30,422.33 466.61,424.51 463.92,426.54 461.23,428.45 458.54,430.31 455.85,432.14 453.16,433.93 450.48,435.66 447.79,437.28 445.10,438.80 442.41,440.18 439.72,441.42 437.03,442.48 434.34,443.34 431.65,444.00 428.97,444.49 426.28,444.84 423.59,445.10 420.90,445.31 418.21,445.49 415.52,445.67 412.83,445.79 410.14,445.82 407.46,445.80 404.77,445.74 402.08,445.68 399.39,445.62 396.70,445.60" fill="#9dbcf5" fill-opacity="0.55"/>
<polyline points="396.70,442.15 399.39,442.15 402.08,442.17 404.77,442.19 407.46,442.21 410.14,442.22 412.83,442.21 415.52,442.17 418.21,442.10 420.90,441.97 423.59,441.82 426.28,441.64 428.97,441.47 431.65,441.32 434.34,441.21 437.03,441.15 439.72,441.14 442.41,441.16 445.10,441.21 447.79,441.29 450.48,441.38 453.16,441.49 455.85,441.62 458.54,441.77 461.23,441.95 463.92,442.17 466.61,442.40 469.30,442.63 471.99,442.85 474.67,443.03 477.36,443.18 480.05,443.29 482.74,443.39 485.43,443.48 488.12,443.54 490.81,443.59 493.50,443.62 496.18,443.63 498.87,443.61 501.56,443.55 504.25,443.47 506.94,443.38 509.63,443.29 512.32,443.21 515.01,443.15 517.69,443.12 520.38,443.11 523.07,443.09 525.76,443.09 528.45,443.08 531.14,443.08 533.83,443.09 536.52,443.09 539.20,443.10 541.89,443.11 544.58,443.11 547.27,443.12 549.96,443.13 552.65,443.13 555.34,443.13 558.03,443.13 560.71,443.14 563.40,443.15 566.09,443.17 568.78,443.18 571.47,443.20 574.16,443.21 576.85,443.23 579.54,443.24 582.22,443.24 584.91,443.24 587.60,443.23 590.29,443.21 592.98,443.18 595.67,443.14 598.36,443.09 601.05,443.02 603.73,442.94 606.42,442.86 609.11,442.76 611.80,442.66 614.49,442.55 617.18,442.44 619.87,442.32 622.56,442.21 625.24,442.09 627.93,441.98 630.62,441.86 633.31,441.75 636.00,441.65" fill="none" stroke="#1c1c1c" stroke-width="1.1"/>
<path d="M395.30,440.75 L398.10,443.55 M395.30,443.55 L398.10,440.75 M396.70,440.47 V443.83" stroke="#1c1c1c" stroke-width="0.7" fill="none"/>
<path d="M415.24,440.75 L418.04,443.55 M415.24,443.55 L418.04,440.75 M416.64,440.47 V443.83" stroke="#1c1c1c" stroke-width="0.7" fill="none"/>
<path d="M435.18,439.76 L437.98,442.56 M435.18,442.56 L437.98,439.76 M436.58,439.48 V442.84" stroke="#1c1c1c" stroke-width="0.7" fill="none"/>
<path d="M455.12,440.25 L457.92,443.05 M455.12,443.05 L457.92,440.25 M456.52,439.97 V443.33" stroke="#1c1c1c" stroke-width="0.7" fill="none"/>
<path d="M475.07,441.73 L477.87,444.53 M475.07,444.53 L477.87,441.73 M476.47,441.45 V444.81" stroke="#1c1c1c" stroke-width="0.7" fill="none"/>
<path d="M495.01,442.23 L497.81,445.03 M495.01,445.03 L497.81,442.23 M496.41,441.95 V445.31" stroke="#1c1c1c" stroke-width="0.7" fill="none"/>
<path d="M514.95,441.73 L517.75,444.53 M514.95,444.53 L517.75,441.73 M516.35,441.45 V444.81" stroke="#1c1c1c" stroke-width="0.7" fill="none"/>
<path d="M554.83,441.73 L557.63,444.53 M554.83,444.53 L557.63,441.73 M556.23,441.45 V444.81" stroke="#1c1c1c" stroke-width="0.7" fill="none"/>
<path d="M594.72,441.73 L597.52,444.53 M594.72,444.53 L597.52,441.73 M596.12,441.45 V444.81" stroke="#1c1c1c" stroke-width="0.7" fill="none"/>
<path d="M634.60,440.25 L637.40,443.05 M634.60,443.05 L637.40,440.25 M636.00,439.97 V443.33" stroke="#1c1c1c" stroke-width="0.7" fill="none"/>
<polyline points="396.70,444.12 399.39,444.30 402.08,444.53 404.77,444.78 407.46,445.02 410.14,445.19 412.83,445.26 415.52,445.19 418.21,444.96 420.90,444.68 423.59,444.32 426.28,443.86 428.97,443.28 431.65,442.53 434.34,441.60 437.03,440.46 439.72,439.06 442.41,437.42 445.10,435.61 447.79,433.66 450.48,431.63 453.16,429.57 455.85,427.54 458.54,425.59 461.23,423.74 463.92,421.90 466.61,420.00 469.30,417.96 471.99,415.70 474.67,413.15 477.36,410.21 480.05,406.61 482.74,402.50 485.43,398.13 488.12,393.73 490.81,389.57 493.50,385.89 496.18,382.93 498.87,380.75 501.56,379.10 504.25,377.87 506.94,377.00 509.63,376.37 512.32,375.91 515.01,375.52 517.69,375.14 520.38,374.84 523.07,374.63 525.76,374.50 528.45,374.43 531.14,374.40 533.83,374.41 536.52,374.43 539.20,374.46 541.89,374.47 544.58,374.46 547.27,374.41 549.96,374.30 552.65,374.12 555.34,373.86 558.03,373.50 560.71,373.08 563.40,372.61 566.09,372.09 568.78,371.54 571.47,370.94 574.16,370.32 576.85,369.68 579.54,369.02 582.22,368.36 584.91,367.70 587.60,367.04 590.29,366.39 592.98,365.76 595.67,365.16 598.36,364.58 601.05,363.99 603.73,363.41 606.42,362.83 609.11,362.26 611.80,361.68 614.49,361.10 617.18,360.52 619.87,359.94 622.56,359.36 625.24,358.79 627.93,358.21 630.62,357.63 633.31,357.05 636.00,356.47" fill="none" stroke="#2c46aa" stroke-width="1.0"/>
<path d="M395.30,442.72 L398.10,445.52 M395.30,445.52 L398.10,442.72 M396.70,442.44 V445.80" stroke="#2c46aa" stroke-width="0.7" fill="none"/>
<path d="M415.24,443.71 L418.04,446.51 M415.24,446.51 L418.04,443.71 M416.64,443.43 V446.79" stroke="#2c46aa" stroke-width="0.7" fill="none"/>
<path d="M435.18,439.27 L437.98,442.06 M435.18,442.06 L437.98,439.27 M436.58,438.99 V442.35" stroke="#2c46aa" stroke-width="0.7" fill="none"/>
<path d="M455.12,425.64 L457.92,428.44 M455.12,428.44 L457.92,425.64 M456.52,425.36 V428.72" stroke="#2c46aa" stroke-width="0.7" fill="none"/>
<path d="M475.07,409.85 L477.87,412.65 M475.07,412.65 L477.87,409.85 M476.47,409.57 V412.93" stroke="#2c46aa" stroke-width="0.7" fill="none"/>
<path d="M495.01,381.33 L497.81,384.13 M495.01,384.13 L497.81,381.33 M496.41,381.05 V384.41" stroke="#2c46aa" stroke-width="0.7" fill="none"/>
<path d="M514.95,373.93 L517.75,376.73 M514.95,376.73 L517.75,373.93 M516.35,373.65 V377.01" stroke="#2c46aa" stroke-width="0.7" fill="none"/>
<path d="M554.83,372.35 L557.63,375.15 M554.83,375.15 L557.63,372.35 M556.23,372.07 V375.43" stroke="#2c46aa" stroke-width="0.7" fill="none"/>
<path d="M594.72,363.66 L597.52,366.46 M594.72,366.46 L597.52,363.66 M596.12,363.38 V366.74" stroke="#2c46aa" stroke-width="0.7" fill="none"/>
<path d="M634.60,355.07 L637.40,357.87 M634.60,357.87 L637.40,355.07 M636.00,354.79 V358.15" stroke="#2c46aa" stroke-width="0.7" fill="none"/>
<path d="M370.30,290.50 H649.30 V447.00" fill="none" stroke="#333" stroke-width="0.6"/>
<path d="M370.30,290.20 V447.00 H649.30" fill="none" stroke="#555" stroke-width="1.1"/>
<line x1="370.30" x2="373.40" y1="445.60" y2="445.60" stroke="#444" stroke-width="0.8"/>
<text x="368.30" y="448.40" font-size="8" fill="#555" text-anchor="end">0</text>
<line x1="370.30" x2="373.40" y1="425.86" y2="425.86" stroke="#444" stroke-width="0.8"/>
<text x="368.30" y="428.66" font-size="8" fill="#555" text-anchor="end">2</text>
<line x1="370.30" x2="373.40" y1="406.12" y2="406.12" stroke="#444" stroke-width="0.8"/>
<text x="368.30" y="408.92" font-size="8" fill="#555" text-anchor="end">4</text>
<line x1="370.30" x2="373.40" y1="386.38" y2="386.38" stroke="#444" stroke-width="0.8"/>
<text x="368.30" y="389.18" font-size="8" fill="#555" text-anchor="end">6</text>
<line x1="370.30" x2="373.40" y1="366.64" y2="366.64" stroke="#444" stroke-width="0.8"/>
<text x="368.30" y="369.44" font-size="8" fill="#555" text-anchor="end">8</text>
<line x1="370.30" x2="373.40" y1="346.90" y2="346.90" stroke="#444" stroke-width="0.8"/>
<text x="368.30" y="349.70" font-size="8" fill="#555" text-anchor="end">10</text>
<line x1="370.30" x2="373.40" y1="327.16" y2="327.16" stroke="#444" stroke-width="0.8"/>
<text x="368.30" y="329.96" font-size="8" fill="#555" text-anchor="end">12</text>
<line x1="370.30" x2="373.40" y1="307.42" y2="307.42" stroke="#444" stroke-width="0.8"/>
<text x="368.30" y="310.22" font-size="8" fill="#555" text-anchor="end">14</text>
<line x1="396.70" x2="396.70" y1="445.40" y2="448.20" stroke="#444" stroke-width="0.7"/>
<text x="396.70" y="453.60" font-size="8" fill="#555" text-anchor="middle">0</text>
<line x1="416.64" x2="416.64" y1="445.40" y2="448.20" stroke="#444" stroke-width="0.7"/>
<text x="416.64" y="453.60" font-size="8" fill="#555" text-anchor="middle">30</text>
<line x1="436.58" x2="436.58" y1="445.40" y2="448.20" stroke="#444" stroke-width="0.7"/>
<text x="436.58" y="453.60" font-size="8" fill="#555" text-anchor="middle">60</text>
<line x1="456.52" x2="456.52" y1="445.40" y2="448.20" stroke="#444" stroke-width="0.7"/>
<text x="456.52" y="453.60" font-size="8" fill="#555" text-anchor="middle">90</text>
<line x1="476.47" x2="476.47" y1="445.40" y2="448.20" stroke="#444" stroke-width="0.7"/>
<text x="476.47" y="453.60" font-size="8" fill="#555" text-anchor="middle">120</text>
<line x1="496.41" x2="496.41" y1="445.40" y2="448.20" stroke="#444" stroke-width="0.7"/>
<text x="496.41" y="453.60" font-size="8" fill="#555" text-anchor="middle">150</text>
<line x1="516.35" x2="516.35" y1="445.40" y2="448.20" stroke="#444" stroke-width="0.7"/>
<text x="516.35" y="453.60" font-size="8" fill="#555" text-anchor="middle">180</text>
<line x1="536.29" x2="536.29" y1="445.40" y2="448.20" stroke="#444" stroke-width="0.7"/>
<text x="536.29" y="453.60" font-size="8" fill="#555" text-anchor="middle">210</text>
<line x1="556.23" x2="556.23" y1="445.40" y2="448.20" stroke="#444" stroke-width="0.7"/>
<text x="556.23" y="453.60" font-size="8" fill="#555" text-anchor="middle">240</text>
<line x1="576.17" x2="576.17" y1="445.40" y2="448.20" stroke="#444" stroke-width="0.7"/>
<text x="576.17" y="453.60" font-size="8" fill="#555" text-anchor="middle">270</text>
<line x1="596.12" x2="596.12" y1="445.40" y2="448.20" stroke="#444" stroke-width="0.7"/>
<text x="596.12" y="453.60" font-size="8" fill="#555" text-anchor="middle">300</text>
<line x1="616.06" x2="616.06" y1="445.40" y2="448.20" stroke="#444" stroke-width="0.7"/>
<text x="616.06" y="453.60" font-size="8" fill="#555" text-anchor="middle">330</text>
<line x1="636.00" x2="636.00" y1="445.40" y2="448.20" stroke="#444" stroke-width="0.7"/>
<text x="636.00" y="453.60" font-size="8" fill="#555" text-anchor="middle">360</text>
<line x1="378.20" y1="451.60" x2="385.00" y2="442.20" stroke="#111" stroke-width="1.2"/>
<line x1="382.60" y1="451.60" x2="389.40" y2="442.20" stroke="#111" stroke-width="1.2"/>
<text x="508.30" y="467.90" font-size="10.6" fill="#111" text-anchor="middle">Time Point [min]</text>
<text transform="translate(348.50,361.20) rotate(-90)" font-size="10.6" fill="#111" text-anchor="middle">Switching (MATα) level [%]</text>
<text x="508.55" y="284.60" font-size="12.0" fill="#111" text-anchor="middle">Switching quantification by qPCR (MATα locus)</text>
<text x="331.70" y="281.10" font-size="10.2" fill="#000">C</text>
<text transform="translate(371.30,319.00) rotate(-38.5)" font-size="7.75" font-weight="normal" fill="#666">Raffinose</text>
<text transform="translate(401.60,319.50) rotate(-38.5)" font-size="8.0" font-weight="bold" fill="#e0202a">Galactose</text>
<text transform="translate(439.30,314.80) rotate(-38.5)" font-size="7.75" font-weight="bold" fill="#111">Glucose</text>
<rect x="572.40" y="291.90" width="18.20" height="8.2" fill="#bdbdbd" fill-opacity="0.6"/>
<line x1="572.40" x2="590.60" y1="296.00" y2="296.00" stroke="#1c1c1c" stroke-width="0.9"/>
<path d="M580.10,294.60 L582.90,297.40 M580.10,297.40 L582.90,294.60 M581.50,294.32 V297.68" stroke="#1c1c1c" stroke-width="0.7" fill="none"/>
<text x="595.90" y="298.80" font-size="7.9" fill="#111">Uninduced</text>
<rect x="572.40" y="301.90" width="18.20" height="8.2" fill="#9dbcf5" fill-opacity="0.55"/>
<line x1="572.40" x2="590.60" y1="306.00" y2="306.00" stroke="#2c46aa" stroke-width="0.9"/>
<path d="M580.10,304.60 L582.90,307.40 M580.10,307.40 L582.90,304.60 M581.50,304.32 V307.68" stroke="#2c46aa" stroke-width="0.7" fill="none"/>
<text x="595.90" y="308.80" font-size="7.9" fill="#111">Induced</text>
</g>
<g>
<rect x="66.80" y="498.40" width="39.97" height="158.10" fill="#fdcbcb"/>
<polygon points="66.80,654.42 69.49,654.63 72.19,654.86 74.88,655.08 77.58,655.31 80.27,655.52 82.97,655.70 85.66,655.85 88.36,655.96 91.05,656.04 93.74,656.08 96.44,656.10 99.13,656.10 101.83,656.10 104.52,656.10 107.22,656.11 109.91,656.11 112.60,656.12 115.30,656.12 117.99,656.11 120.69,656.11 123.38,656.11 126.08,656.10 128.77,656.10 131.47,656.10 134.16,656.10 136.85,656.10 139.55,656.10 142.24,656.10 144.94,656.10 147.63,656.10 150.33,656.10 153.02,656.10 155.71,656.10 158.41,656.10 161.10,656.10 163.80,656.10 166.49,656.10 169.19,656.10 171.88,656.10 174.58,656.10 177.27,656.10 179.96,656.10 182.66,656.10 185.35,656.10 188.05,656.10 190.74,656.10 193.44,656.11 196.13,656.11 198.82,656.11 201.52,656.11 204.21,656.11 206.91,656.12 209.60,656.12 212.30,656.12 214.99,656.12 217.69,656.12 220.38,656.11 223.07,656.11 225.77,656.11 228.46,656.10 231.16,656.09 233.85,656.08 236.55,656.06 239.24,656.05 241.93,656.03 244.63,656.02 247.32,656.00 250.02,655.98 252.71,655.97 255.41,655.95 258.10,655.94 260.80,655.93 263.49,655.92 266.18,655.91 268.88,655.90 271.57,655.90 274.27,655.89 276.96,655.89 279.66,655.89 282.35,655.89 285.04,655.89 287.74,655.89 290.43,655.90 293.13,655.90 295.82,655.90 298.52,655.90 301.21,655.90 303.91,655.91 306.60,655.91 306.60,656.40 303.91,656.40 301.21,656.40 298.52,656.40 295.82,656.40 293.13,656.40 290.43,656.40 287.74,656.40 285.04,656.40 282.35,656.40 279.66,656.40 276.96,656.40 274.27,656.40 271.57,656.40 268.88,656.40 266.18,656.40 263.49,656.40 260.80,656.40 258.10,656.40 255.41,656.40 252.71,656.40 250.02,656.40 247.32,656.40 244.63,656.40 241.93,656.40 239.24,656.40 236.55,656.40 233.85,656.40 231.16,656.40 228.46,656.40 225.77,656.40 223.07,656.40 220.38,656.40 217.69,656.40 214.99,656.40 212.30,656.40 209.60,656.40 206.91,656.40 204.21,656.40 201.52,656.40 198.82,656.40 196.13,656.40 193.44,656.40 190.74,656.40 188.05,656.40 185.35,656.40 182.66,656.40 179.96,656.40 177.27,656.40 174.58,656.40 171.88,656.40 169.19,656.40 166.49,656.40 163.80,656.40 161.10,656.40 158.41,656.40 155.71,656.40 153.02,656.40 150.33,656.40 147.63,656.40 144.94,656.40 142.24,656.40 139.55,656.40 136.85,656.40 134.16,656.40 131.47,656.40 128.77,656.40 126.08,656.40 123.38,656.40 120.69,656.40 117.99,656.40 115.30,656.40 112.60,656.40 109.91,656.40 107.22,656.40 104.52,656.40 101.83,656.41 99.13,656.42 96.44,656.43 93.74,656.44 91.05,656.43 88.36,656.42 85.66,656.38 82.97,656.34 80.27,656.28 77.58,656.21 74.88,656.13 72.19,656.05 69.49,655.98 66.80,655.91" fill="#bdbdbd" fill-opacity="0.6"/>
<polygon points="66.80,654.92 69.49,655.06 72.19,655.21 74.88,655.36 77.58,655.52 80.27,655.66 82.97,655.78 85.66,655.87 88.36,655.94 91.05,655.97 93.74,655.98 96.44,655.97 99.13,655.95 101.83,655.93 104.52,655.91 107.22,655.91 109.91,655.91 112.60,655.91 115.30,655.91 117.99,655.91 120.69,655.91 123.38,655.91 126.08,655.91 128.77,655.93 131.47,656.00 134.16,656.10 136.85,656.19 139.55,656.23 142.24,656.21 144.94,656.07 147.63,655.82 150.33,655.65 153.02,655.54 155.71,655.36 158.41,655.00 161.10,654.33 163.80,653.25 166.49,651.62 169.19,649.31 171.88,646.34 174.58,642.90 177.27,639.17 179.96,635.31 182.66,631.52 185.35,627.97 188.05,624.75 190.74,621.50 193.44,618.17 196.13,614.79 198.82,611.39 201.52,607.99 204.21,604.62 206.91,601.31 209.60,598.09 212.30,594.99 214.99,592.03 217.69,589.24 220.38,586.65 223.07,584.28 225.77,582.17 228.46,580.34 231.16,578.76 233.85,577.42 236.55,576.29 239.24,575.34 241.93,574.55 244.63,573.90 247.32,573.36 250.02,572.91 252.71,572.52 255.41,572.18 258.10,571.85 260.80,571.52 263.49,571.15 266.18,570.73 268.88,570.29 271.57,569.90 274.27,569.58 276.96,569.31 279.66,569.08 282.35,568.88 285.04,568.72 287.74,568.58 290.43,568.45 293.13,568.33 295.82,568.21 298.52,568.08 301.21,567.94 303.91,567.78 306.60,567.59 306.60,580.74 303.91,580.84 301.21,580.92 298.52,580.99 295.82,581.05 293.13,581.11 290.43,581.16 287.74,581.23 285.04,581.30 282.35,581.38 279.66,581.48 276.96,581.60 274.27,581.74 271.57,581.92 268.88,582.12 266.18,582.36 263.49,582.52 260.80,582.56 258.10,582.52 255.41,582.43 252.71,582.33 250.02,582.26 247.32,582.26 244.63,582.36 241.93,582.60 239.24,583.01 236.55,583.64 233.85,584.52 231.16,585.68 228.46,587.17 225.77,589.02 223.07,591.29 220.38,593.95 217.69,596.96 214.99,600.24 212.30,603.77 209.60,607.47 206.91,611.31 204.21,615.22 201.52,619.16 198.82,623.08 196.13,626.91 193.44,630.62 190.74,634.15 188.05,637.45 185.35,640.48 182.66,643.33 179.96,645.99 177.27,648.43 174.58,650.63 171.88,652.56 169.19,654.19 166.49,655.51 163.80,656.39 161.10,656.84 158.41,656.97 155.71,656.88 153.02,656.69 150.33,656.49 147.63,656.39 144.94,656.44 142.24,656.47 139.55,656.47 136.85,656.46 134.16,656.44 131.47,656.42 128.77,656.40 126.08,656.40 123.38,656.40 120.69,656.40 117.99,656.40 115.30,656.40 112.60,656.40 109.91,656.40 107.22,656.40 104.52,656.40 101.83,656.41 99.13,656.42 96.44,656.43 93.74,656.44 91.05,656.43 88.36,656.42 85.66,656.38 82.97,656.34 80.27,656.28 77.58,656.21 74.88,656.13 72.19,656.05 69.49,655.98 66.80,655.91" fill="#9dbcf5" fill-opacity="0.55"/>
<polyline points="66.80,655.21 69.49,655.35 72.19,655.50 74.88,655.65 77.58,655.80 80.27,655.94 82.97,656.06 85.66,656.17 88.36,656.24 91.05,656.30 93.74,656.34 96.44,656.36 99.13,656.37 101.83,656.38 104.52,656.39 107.22,656.40 109.91,656.41 112.60,656.41 115.30,656.41 117.99,656.41 120.69,656.41 123.38,656.40 126.08,656.40 128.77,656.40 131.47,656.40 134.16,656.40 136.85,656.40 139.55,656.40 142.24,656.40 144.94,656.40 147.63,656.40 150.33,656.40 153.02,656.40 155.71,656.40 158.41,656.40 161.10,656.40 163.80,656.40 166.49,656.40 169.19,656.40 171.88,656.40 174.58,656.40 177.27,656.40 179.96,656.40 182.66,656.40 185.35,656.40 188.05,656.40 190.74,656.40 193.44,656.40 196.13,656.40 198.82,656.41 201.52,656.41 204.21,656.41 206.91,656.41 209.60,656.41 212.30,656.41 214.99,656.41 217.69,656.41 220.38,656.41 223.07,656.41 225.77,656.40 228.46,656.39 231.16,656.39 233.85,656.37 236.55,656.36 239.24,656.35 241.93,656.33 244.63,656.31 247.32,656.30 250.02,656.28 252.71,656.26 255.41,656.25 258.10,656.23 260.80,656.22 263.49,656.21 266.18,656.20 268.88,656.20 271.57,656.19 274.27,656.19 276.96,656.19 279.66,656.19 282.35,656.19 285.04,656.19 287.74,656.19 290.43,656.19 293.13,656.19 295.82,656.20 298.52,656.20 301.21,656.20 303.91,656.20 306.60,656.20" fill="none" stroke="#1c1c1c" stroke-width="1.2"/>
<rect x="65.80" y="654.21" width="2.00" height="2.00" fill="#1c1c1c"/>
<rect x="85.78" y="655.20" width="2.00" height="2.00" fill="#1c1c1c"/>
<rect x="105.77" y="655.40" width="2.00" height="2.00" fill="#1c1c1c"/>
<rect x="125.75" y="655.40" width="2.00" height="2.00" fill="#1c1c1c"/>
<rect x="145.73" y="655.40" width="2.00" height="2.00" fill="#1c1c1c"/>
<rect x="165.72" y="655.40" width="2.00" height="2.00" fill="#1c1c1c"/>
<rect x="185.70" y="655.40" width="2.00" height="2.00" fill="#1c1c1c"/>
<rect x="225.67" y="655.40" width="2.00" height="2.00" fill="#1c1c1c"/>
<rect x="265.63" y="655.20" width="2.00" height="2.00" fill="#1c1c1c"/>
<rect x="305.60" y="655.20" width="2.00" height="2.00" fill="#1c1c1c"/>
<polyline points="66.80,655.41 69.49,655.55 72.19,655.70 74.88,655.86 77.58,656.01 80.27,656.15 82.97,656.27 85.66,656.37 88.36,656.43 91.05,656.47 93.74,656.47 96.44,656.46 99.13,656.44 101.83,656.42 104.52,656.41 107.22,656.40 109.91,656.40 112.60,656.40 115.30,656.40 117.99,656.40 120.69,656.40 123.38,656.40 126.08,656.40 128.77,656.41 131.47,656.46 134.16,656.53 136.85,656.59 139.55,656.62 142.24,656.60 144.94,656.51 147.63,656.34 150.33,656.28 153.02,656.29 155.71,656.26 158.41,656.08 161.10,655.64 163.80,654.84 166.49,653.56 169.19,651.74 171.88,649.43 174.58,646.74 177.27,643.77 179.96,640.63 182.66,637.41 185.35,634.22 188.05,631.10 190.74,627.85 193.44,624.44 196.13,620.91 198.82,617.32 201.52,613.68 204.21,610.05 206.91,606.47 209.60,602.96 212.30,599.58 214.99,596.36 217.69,593.33 220.38,590.55 223.07,588.04 225.77,585.85 228.46,584.00 231.16,582.45 233.85,581.17 236.55,580.14 239.24,579.32 241.93,578.69 244.63,578.21 247.32,577.85 250.02,577.59 252.71,577.39 255.41,577.23 258.10,577.08 260.80,576.90 263.49,576.67 266.18,576.35 268.88,575.99 271.57,575.68 274.27,575.42 276.96,575.20 279.66,575.01 282.35,574.85 285.04,574.72 287.74,574.61 290.43,574.51 293.13,574.41 295.82,574.31 298.52,574.21 301.21,574.10 303.91,573.97 306.60,573.82" fill="none" stroke="#2c46aa" stroke-width="1.1"/>
<rect x="65.80" y="654.41" width="2.00" height="2.00" fill="#2c46aa"/>
<rect x="85.78" y="655.40" width="2.00" height="2.00" fill="#2c46aa"/>
<rect x="105.77" y="655.40" width="2.00" height="2.00" fill="#2c46aa"/>
<rect x="125.75" y="655.40" width="2.00" height="2.00" fill="#2c46aa"/>
<rect x="145.73" y="655.40" width="2.00" height="2.00" fill="#2c46aa"/>
<rect x="165.72" y="652.43" width="2.00" height="2.00" fill="#2c46aa"/>
<rect x="185.70" y="631.66" width="2.00" height="2.00" fill="#2c46aa"/>
<rect x="225.67" y="584.19" width="2.00" height="2.00" fill="#2c46aa"/>
<rect x="265.63" y="575.29" width="2.00" height="2.00" fill="#2c46aa"/>
<rect x="305.60" y="572.82" width="2.00" height="2.00" fill="#2c46aa"/>
<path d="M35.90,498.40 H316.30 V656.50" fill="none" stroke="#333" stroke-width="0.6"/>
<path d="M35.90,498.10 V656.50 H316.30" fill="none" stroke="#555" stroke-width="1.1"/>
<line x1="35.90" x2="39.00" y1="656.40" y2="656.40" stroke="#444" stroke-width="0.8"/>
<text x="35.60" y="659.20" font-size="8" fill="#555" text-anchor="end">0</text>
<line x1="35.90" x2="39.00" y1="636.62" y2="636.62" stroke="#444" stroke-width="0.8"/>
<text x="35.60" y="639.42" font-size="8" fill="#555" text-anchor="end">2</text>
<line x1="35.90" x2="39.00" y1="616.84" y2="616.84" stroke="#444" stroke-width="0.8"/>
<text x="35.60" y="619.64" font-size="8" fill="#555" text-anchor="end">4</text>
<line x1="35.90" x2="39.00" y1="597.06" y2="597.06" stroke="#444" stroke-width="0.8"/>
<text x="35.60" y="599.86" font-size="8" fill="#555" text-anchor="end">6</text>
<line x1="35.90" x2="39.00" y1="577.28" y2="577.28" stroke="#444" stroke-width="0.8"/>
<text x="35.60" y="580.08" font-size="8" fill="#555" text-anchor="end">8</text>
<line x1="35.90" x2="39.00" y1="557.50" y2="557.50" stroke="#444" stroke-width="0.8"/>
<text x="35.60" y="560.30" font-size="8" fill="#555" text-anchor="end">10</text>
<line x1="35.90" x2="39.00" y1="537.72" y2="537.72" stroke="#444" stroke-width="0.8"/>
<text x="35.60" y="540.52" font-size="8" fill="#555" text-anchor="end">12</text>
<line x1="35.90" x2="39.00" y1="517.94" y2="517.94" stroke="#444" stroke-width="0.8"/>
<text x="35.60" y="520.74" font-size="8" fill="#555" text-anchor="end">14</text>
<line x1="66.80" x2="66.80" y1="654.90" y2="657.70" stroke="#444" stroke-width="0.7"/>
<text x="66.80" y="666.30" font-size="8" fill="#555" text-anchor="middle">0</text>
<line x1="86.78" x2="86.78" y1="654.90" y2="657.70" stroke="#444" stroke-width="0.7"/>
<text x="86.78" y="666.30" font-size="8" fill="#555" text-anchor="middle">30</text>
<line x1="106.77" x2="106.77" y1="654.90" y2="657.70" stroke="#444" stroke-width="0.7"/>
<text x="106.77" y="666.30" font-size="8" fill="#555" text-anchor="middle">60</text>
<line x1="126.75" x2="126.75" y1="654.90" y2="657.70" stroke="#444" stroke-width="0.7"/>
<text x="126.75" y="666.30" font-size="8" fill="#555" text-anchor="middle">90</text>
<line x1="146.73" x2="146.73" y1="654.90" y2="657.70" stroke="#444" stroke-width="0.7"/>
<text x="146.73" y="666.30" font-size="8" fill="#555" text-anchor="middle">120</text>
<line x1="166.72" x2="166.72" y1="654.90" y2="657.70" stroke="#444" stroke-width="0.7"/>
<text x="166.72" y="666.30" font-size="8" fill="#555" text-anchor="middle">150</text>
<line x1="186.70" x2="186.70" y1="654.90" y2="657.70" stroke="#444" stroke-width="0.7"/>
<text x="186.70" y="666.30" font-size="8" fill="#555" text-anchor="middle">180</text>
<line x1="206.68" x2="206.68" y1="654.90" y2="657.70" stroke="#444" stroke-width="0.7"/>
<text x="206.68" y="666.30" font-size="8" fill="#555" text-anchor="middle">210</text>
<line x1="226.67" x2="226.67" y1="654.90" y2="657.70" stroke="#444" stroke-width="0.7"/>
<text x="226.67" y="666.30" font-size="8" fill="#555" text-anchor="middle">240</text>
<line x1="246.65" x2="246.65" y1="654.90" y2="657.70" stroke="#444" stroke-width="0.7"/>
<text x="246.65" y="666.30" font-size="8" fill="#555" text-anchor="middle">270</text>
<line x1="266.63" x2="266.63" y1="654.90" y2="657.70" stroke="#444" stroke-width="0.7"/>
<text x="266.63" y="666.30" font-size="8" fill="#555" text-anchor="middle">300</text>
<line x1="286.62" x2="286.62" y1="654.90" y2="657.70" stroke="#444" stroke-width="0.7"/>
<text x="286.62" y="666.30" font-size="8" fill="#555" text-anchor="middle">330</text>
<line x1="306.60" x2="306.60" y1="654.90" y2="657.70" stroke="#444" stroke-width="0.7"/>
<text x="306.60" y="666.30" font-size="8" fill="#555" text-anchor="middle">360</text>
<line x1="47.90" y1="661.10" x2="54.70" y2="651.70" stroke="#111" stroke-width="1.2"/>
<line x1="52.30" y1="661.10" x2="59.10" y2="651.70" stroke="#111" stroke-width="1.2"/>
<text x="176.20" y="682.20" font-size="10.6" fill="#111" text-anchor="middle">Time Point [min]</text>
<text transform="translate(17.70,572.80) rotate(-90)" font-size="10.6" fill="#111" text-anchor="middle">Switching (MATα) level [%]</text>
<text x="176.70" y="492.40" font-size="12.0" fill="#111" text-anchor="middle">Switching quantification by IFC (ImageStream)</text>
<text x="1.40" y="487.60" font-size="10.2" fill="#000">D</text>
<text transform="translate(38.00,526.00) rotate(-33)" font-size="7.75" font-weight="bold" fill="#111">Raffinose</text>
<text transform="translate(70.50,525.80) rotate(-33)" font-size="8.0" font-weight="bold" fill="#e0202a">Galactose</text>
<text transform="translate(110.50,521.50) rotate(-33)" font-size="7.75" font-weight="bold" fill="#111">Glucose</text>
<rect x="240.80" y="500.20" width="18.00" height="8.2" fill="#bdbdbd" fill-opacity="0.6"/>
<line x1="240.80" x2="258.80" y1="504.30" y2="504.30" stroke="#1c1c1c" stroke-width="0.9"/>
<rect x="248.80" y="503.30" width="2.00" height="2.00" fill="#1c1c1c"/>
<text x="261.50" y="507.10" font-size="7.9" fill="#111">Uninduced</text>
<rect x="240.80" y="510.70" width="18.00" height="8.2" fill="#9dbcf5" fill-opacity="0.55"/>
<line x1="240.80" x2="258.80" y1="514.80" y2="514.80" stroke="#2c46aa" stroke-width="0.9"/>
<rect x="248.80" y="513.80" width="2.00" height="2.00" fill="#2c46aa"/>
<text x="261.50" y="517.60" font-size="7.9" fill="#111">Induced</text>
</g>
<g>
<rect x="398.70" y="497.70" width="40.23" height="159.50" fill="#fdcbcb"/>
<polygon points="398.70,655.20 401.41,655.23 404.12,655.26 406.84,655.29 409.55,655.33 412.26,655.35 414.97,655.38 417.69,655.40 420.40,655.41 423.11,655.41 425.82,655.41 428.54,655.40 431.25,655.39 433.96,655.39 436.67,655.39 439.39,655.41 442.10,655.44 444.81,655.48 447.52,655.53 450.23,655.58 452.95,655.62 455.66,655.67 458.37,655.70 461.08,655.72 463.80,655.72 466.51,655.72 469.22,655.72 471.93,655.72 474.65,655.71 477.36,655.70 480.07,655.70 482.78,655.70 485.50,655.70 488.21,655.70 490.92,655.70 493.63,655.70 496.34,655.70 499.06,655.70 501.77,655.70 504.48,655.70 507.19,655.70 509.91,655.70 512.62,655.70 515.33,655.70 518.04,655.70 520.76,655.70 523.47,655.70 526.18,655.70 528.89,655.70 531.61,655.70 534.32,655.70 537.03,655.70 539.74,655.70 542.46,655.70 545.17,655.70 547.88,655.70 550.59,655.70 553.30,655.70 556.02,655.70 558.73,655.70 561.44,655.70 564.15,655.70 566.87,655.71 569.58,655.71 572.29,655.71 575.00,655.72 577.72,655.72 580.43,655.72 583.14,655.72 585.85,655.73 588.57,655.72 591.28,655.72 593.99,655.72 596.70,655.71 599.41,655.70 602.13,655.69 604.84,655.68 607.55,655.66 610.26,655.65 612.98,655.63 615.69,655.61 618.40,655.59 621.11,655.56 623.83,655.54 626.54,655.52 629.25,655.49 631.96,655.47 634.68,655.45 637.39,655.42 640.10,655.40 640.10,656.90 637.39,656.91 634.68,656.91 631.96,656.92 629.25,656.93 626.54,656.94 623.83,656.95 621.11,656.95 618.40,656.96 615.69,656.97 612.98,656.98 610.26,656.98 607.55,656.99 604.84,656.99 602.13,657.00 599.41,657.00 596.70,657.00 593.99,657.01 591.28,657.01 588.57,657.01 585.85,657.01 583.14,657.01 580.43,657.01 577.72,657.01 575.00,657.00 572.29,657.00 569.58,657.00 566.87,657.00 564.15,657.00 561.44,657.00 558.73,657.00 556.02,657.00 553.30,657.00 550.59,657.00 547.88,657.00 545.17,657.00 542.46,657.00 539.74,657.00 537.03,657.00 534.32,657.00 531.61,657.00 528.89,657.00 526.18,657.00 523.47,657.00 520.76,657.00 518.04,657.00 515.33,657.00 512.62,657.00 509.91,657.00 507.19,657.00 504.48,657.00 501.77,657.00 499.06,657.00 496.34,657.00 493.63,657.00 490.92,657.00 488.21,657.00 485.50,657.00 482.78,657.00 480.07,657.00 477.36,657.00 474.65,657.00 471.93,657.00 469.22,657.01 466.51,657.01 463.80,657.01 461.08,657.00 458.37,657.00 455.66,656.99 452.95,656.97 450.23,656.96 447.52,656.94 444.81,656.93 442.10,656.91 439.39,656.90 436.67,656.90 433.96,656.90 431.25,656.90 428.54,656.90 425.82,656.90 423.11,656.91 420.40,656.90 417.69,656.90 414.97,656.89 412.26,656.88 409.55,656.86 406.84,656.85 404.12,656.83 401.41,656.82 398.70,656.80" fill="#bdbdbd" fill-opacity="0.6"/>
<polygon points="398.70,654.71 401.41,654.71 404.12,654.71 406.84,654.71 409.55,654.71 412.26,654.71 414.97,654.71 417.69,654.71 420.40,654.70 423.11,654.70 425.82,654.69 428.54,654.67 431.25,654.67 433.96,654.67 436.67,654.68 439.39,654.71 442.10,654.76 444.81,654.83 447.52,654.91 450.23,654.99 452.95,655.07 455.66,655.14 458.37,655.19 461.08,655.22 463.80,655.24 466.51,655.24 469.22,655.23 471.93,655.22 474.65,655.21 477.36,655.21 480.07,655.21 482.78,655.24 485.50,655.30 488.21,655.37 490.92,655.41 493.63,655.42 496.34,655.36 499.06,655.22 501.77,654.93 504.48,654.41 507.19,653.70 509.91,652.82 512.62,651.96 515.33,650.92 518.04,649.33 520.76,646.94 523.47,644.21 526.18,641.27 528.89,638.18 531.61,634.96 534.32,631.66 537.03,628.33 539.74,624.99 542.46,621.46 545.17,617.71 547.88,613.84 550.59,609.98 553.30,606.26 556.02,602.80 558.73,599.73 561.44,597.13 564.15,594.87 566.87,592.90 569.58,591.17 572.29,589.62 575.00,588.19 577.72,586.84 580.43,585.51 583.14,584.30 585.85,583.21 588.57,582.25 591.28,581.38 593.99,580.59 596.70,579.86 599.41,579.17 602.13,578.52 604.84,577.95 607.55,577.45 610.26,577.01 612.98,576.63 615.69,576.30 618.40,576.01 621.11,575.77 623.83,575.61 626.54,575.53 629.25,575.49 631.96,575.49 634.68,575.50 637.39,575.50 640.10,575.46 640.10,588.64 637.39,588.44 634.68,588.21 631.96,587.97 629.25,587.74 626.54,587.54 623.83,587.40 621.11,587.34 618.40,587.34 615.69,587.32 612.98,587.31 610.26,587.36 607.55,587.52 604.84,587.84 602.13,588.38 599.41,589.19 596.70,590.28 593.99,591.60 591.28,593.11 588.57,594.78 585.85,596.57 583.14,598.44 580.43,600.34 577.72,602.28 575.00,604.32 572.29,606.47 569.58,608.69 566.87,610.98 564.15,613.32 561.44,615.69 558.73,618.08 556.02,620.57 553.30,623.14 550.59,625.76 547.88,628.40 545.17,631.01 542.46,633.57 539.74,636.04 537.03,638.46 534.32,640.89 531.61,643.30 528.89,645.66 526.18,647.91 523.47,650.04 520.76,652.00 518.04,653.68 515.33,654.67 512.62,655.23 509.91,655.69 507.19,656.23 504.48,656.69 501.77,657.02 499.06,657.21 496.34,657.30 493.63,657.34 490.92,657.33 488.21,657.30 485.50,657.26 482.78,657.22 480.07,657.20 477.36,657.20 474.65,657.21 471.93,657.22 469.22,657.23 466.51,657.24 463.80,657.23 461.08,657.22 458.37,657.19 455.66,657.14 452.95,657.07 450.23,656.99 447.52,656.91 444.81,656.83 442.10,656.76 439.39,656.71 436.67,656.68 433.96,656.67 431.25,656.66 428.54,656.67 425.82,656.68 423.11,656.69 420.40,656.70 417.69,656.70 414.97,656.70 412.26,656.70 409.55,656.70 406.84,656.70 404.12,656.70 401.41,656.70 398.70,656.70" fill="#9dbcf5" fill-opacity="0.55"/>
<polyline points="398.70,656.00 401.41,656.03 404.12,656.06 406.84,656.09 409.55,656.12 412.26,656.15 414.97,656.18 417.69,656.20 420.40,656.21 423.11,656.21 425.82,656.21 428.54,656.20 431.25,656.20 433.96,656.19 436.67,656.19 439.39,656.20 442.10,656.22 444.81,656.25 447.52,656.28 450.23,656.32 452.95,656.35 455.66,656.38 458.37,656.40 461.08,656.41 463.80,656.42 466.51,656.42 469.22,656.41 471.93,656.41 474.65,656.41 477.36,656.40 480.07,656.40 482.78,656.40 485.50,656.40 488.21,656.40 490.92,656.40 493.63,656.40 496.34,656.40 499.06,656.40 501.77,656.40 504.48,656.40 507.19,656.40 509.91,656.40 512.62,656.40 515.33,656.40 518.04,656.40 520.76,656.40 523.47,656.40 526.18,656.40 528.89,656.40 531.61,656.40 534.32,656.40 537.03,656.40 539.74,656.40 542.46,656.40 545.17,656.40 547.88,656.40 550.59,656.40 553.30,656.40 556.02,656.40 558.73,656.40 561.44,656.40 564.15,656.40 566.87,656.40 569.58,656.41 572.29,656.41 575.00,656.41 577.72,656.41 580.43,656.41 583.14,656.42 585.85,656.42 588.57,656.42 591.28,656.41 593.99,656.41 596.70,656.41 599.41,656.40 602.13,656.40 604.84,656.39 607.55,656.38 610.26,656.36 612.98,656.35 615.69,656.34 618.40,656.32 621.11,656.31 623.83,656.29 626.54,656.28 629.25,656.26 631.96,656.25 634.68,656.23 637.39,656.22 640.10,656.20" fill="none" stroke="#1c1c1c" stroke-width="1.2"/>
<rect x="397.70" y="655.00" width="2.00" height="2.00" fill="#1c1c1c"/>
<rect x="417.82" y="655.20" width="2.00" height="2.00" fill="#1c1c1c"/>
<rect x="437.93" y="655.20" width="2.00" height="2.00" fill="#1c1c1c"/>
<rect x="458.05" y="655.40" width="2.00" height="2.00" fill="#1c1c1c"/>
<rect x="478.17" y="655.40" width="2.00" height="2.00" fill="#1c1c1c"/>
<rect x="498.28" y="655.40" width="2.00" height="2.00" fill="#1c1c1c"/>
<rect x="518.40" y="655.40" width="2.00" height="2.00" fill="#1c1c1c"/>
<rect x="558.63" y="655.40" width="2.00" height="2.00" fill="#1c1c1c"/>
<rect x="598.87" y="655.40" width="2.00" height="2.00" fill="#1c1c1c"/>
<rect x="639.10" y="655.20" width="2.00" height="2.00" fill="#1c1c1c"/>
<polyline points="398.70,655.70 401.41,655.70 404.12,655.70 406.84,655.70 409.55,655.70 412.26,655.70 414.97,655.70 417.69,655.70 420.40,655.70 423.11,655.69 425.82,655.68 428.54,655.67 431.25,655.67 433.96,655.67 436.67,655.68 439.39,655.71 442.10,655.76 444.81,655.83 447.52,655.91 450.23,655.99 452.95,656.07 455.66,656.14 458.37,656.19 461.08,656.22 463.80,656.24 466.51,656.24 469.22,656.23 471.93,656.22 474.65,656.21 477.36,656.20 480.07,656.20 482.78,656.23 485.50,656.28 488.21,656.34 490.92,656.37 493.63,656.38 496.34,656.33 499.06,656.22 501.77,655.97 504.48,655.55 507.19,654.97 509.91,654.25 512.62,653.57 515.33,652.74 518.04,651.44 520.76,649.45 523.47,647.17 526.18,644.72 528.89,642.14 531.61,639.45 534.32,636.67 537.03,633.85 539.74,631.01 542.46,628.03 545.17,624.87 547.88,621.61 550.59,618.34 553.30,615.13 556.02,612.08 558.73,609.27 561.44,606.73 564.15,604.37 566.87,602.15 569.58,600.08 572.29,598.13 575.00,596.30 577.72,594.57 580.43,592.93 583.14,591.38 585.85,589.95 588.57,588.62 591.28,587.40 593.99,586.31 596.70,585.33 599.41,584.48 602.13,583.74 604.84,583.12 607.55,582.60 610.26,582.16 612.98,581.80 615.69,581.51 618.40,581.28 621.11,581.08 623.83,580.93 626.54,580.92 629.25,581.06 631.96,581.31 634.68,581.61 637.39,581.91 640.10,582.15" fill="none" stroke="#2c46aa" stroke-width="1.1"/>
<rect x="397.70" y="654.70" width="2.00" height="2.00" fill="#2c46aa"/>
<rect x="417.82" y="654.70" width="2.00" height="2.00" fill="#2c46aa"/>
<rect x="437.93" y="654.70" width="2.00" height="2.00" fill="#2c46aa"/>
<rect x="458.05" y="655.20" width="2.00" height="2.00" fill="#2c46aa"/>
<rect x="478.17" y="655.20" width="2.00" height="2.00" fill="#2c46aa"/>
<rect x="498.28" y="655.20" width="2.00" height="2.00" fill="#2c46aa"/>
<rect x="518.40" y="649.51" width="2.00" height="2.00" fill="#2c46aa"/>
<rect x="558.63" y="607.40" width="2.00" height="2.00" fill="#2c46aa"/>
<rect x="598.87" y="583.35" width="2.00" height="2.00" fill="#2c46aa"/>
<rect x="639.10" y="581.15" width="2.00" height="2.00" fill="#2c46aa"/>
<path d="M368.10,497.70 H648.20 V657.20" fill="none" stroke="#333" stroke-width="0.6"/>
<path d="M368.10,497.40 V657.20 H648.20" fill="none" stroke="#555" stroke-width="1.1"/>
<line x1="368.10" x2="371.20" y1="657.20" y2="657.20" stroke="#444" stroke-width="0.8"/>
<text x="367.40" y="660.00" font-size="8" fill="#555" text-anchor="end">0</text>
<line x1="368.10" x2="371.20" y1="637.24" y2="637.24" stroke="#444" stroke-width="0.8"/>
<text x="367.40" y="640.04" font-size="8" fill="#555" text-anchor="end">2</text>
<line x1="368.10" x2="371.20" y1="617.28" y2="617.28" stroke="#444" stroke-width="0.8"/>
<text x="367.40" y="620.08" font-size="8" fill="#555" text-anchor="end">4</text>
<line x1="368.10" x2="371.20" y1="597.32" y2="597.32" stroke="#444" stroke-width="0.8"/>
<text x="367.40" y="600.12" font-size="8" fill="#555" text-anchor="end">6</text>
<line x1="368.10" x2="371.20" y1="577.36" y2="577.36" stroke="#444" stroke-width="0.8"/>
<text x="367.40" y="580.16" font-size="8" fill="#555" text-anchor="end">8</text>
<line x1="368.10" x2="371.20" y1="557.40" y2="557.40" stroke="#444" stroke-width="0.8"/>
<text x="367.40" y="560.20" font-size="8" fill="#555" text-anchor="end">10</text>
<line x1="368.10" x2="371.20" y1="537.44" y2="537.44" stroke="#444" stroke-width="0.8"/>
<text x="367.40" y="540.24" font-size="8" fill="#555" text-anchor="end">12</text>
<line x1="368.10" x2="371.20" y1="517.48" y2="517.48" stroke="#444" stroke-width="0.8"/>
<text x="367.40" y="520.28" font-size="8" fill="#555" text-anchor="end">14</text>
<line x1="398.70" x2="398.70" y1="655.60" y2="658.40" stroke="#444" stroke-width="0.7"/>
<text x="398.70" y="666.30" font-size="8" fill="#555" text-anchor="middle">0</text>
<line x1="418.82" x2="418.82" y1="655.60" y2="658.40" stroke="#444" stroke-width="0.7"/>
<text x="418.82" y="666.30" font-size="8" fill="#555" text-anchor="middle">30</text>
<line x1="438.93" x2="438.93" y1="655.60" y2="658.40" stroke="#444" stroke-width="0.7"/>
<text x="438.93" y="666.30" font-size="8" fill="#555" text-anchor="middle">60</text>
<line x1="459.05" x2="459.05" y1="655.60" y2="658.40" stroke="#444" stroke-width="0.7"/>
<text x="459.05" y="666.30" font-size="8" fill="#555" text-anchor="middle">90</text>
<line x1="479.17" x2="479.17" y1="655.60" y2="658.40" stroke="#444" stroke-width="0.7"/>
<text x="479.17" y="666.30" font-size="8" fill="#555" text-anchor="middle">120</text>
<line x1="499.28" x2="499.28" y1="655.60" y2="658.40" stroke="#444" stroke-width="0.7"/>
<text x="499.28" y="666.30" font-size="8" fill="#555" text-anchor="middle">150</text>
<line x1="519.40" x2="519.40" y1="655.60" y2="658.40" stroke="#444" stroke-width="0.7"/>
<text x="519.40" y="666.30" font-size="8" fill="#555" text-anchor="middle">180</text>
<line x1="539.52" x2="539.52" y1="655.60" y2="658.40" stroke="#444" stroke-width="0.7"/>
<text x="539.52" y="666.30" font-size="8" fill="#555" text-anchor="middle">210</text>
<line x1="559.63" x2="559.63" y1="655.60" y2="658.40" stroke="#444" stroke-width="0.7"/>
<text x="559.63" y="666.30" font-size="8" fill="#555" text-anchor="middle">240</text>
<line x1="579.75" x2="579.75" y1="655.60" y2="658.40" stroke="#444" stroke-width="0.7"/>
<text x="579.75" y="666.30" font-size="8" fill="#555" text-anchor="middle">270</text>
<line x1="599.87" x2="599.87" y1="655.60" y2="658.40" stroke="#444" stroke-width="0.7"/>
<text x="599.87" y="666.30" font-size="8" fill="#555" text-anchor="middle">300</text>
<line x1="619.98" x2="619.98" y1="655.60" y2="658.40" stroke="#444" stroke-width="0.7"/>
<text x="619.98" y="666.30" font-size="8" fill="#555" text-anchor="middle">330</text>
<line x1="640.10" x2="640.10" y1="655.60" y2="658.40" stroke="#444" stroke-width="0.7"/>
<text x="640.10" y="666.30" font-size="8" fill="#555" text-anchor="middle">360</text>
<line x1="377.40" y1="661.80" x2="384.20" y2="652.40" stroke="#111" stroke-width="1.2"/>
<line x1="381.80" y1="661.80" x2="388.60" y2="652.40" stroke="#111" stroke-width="1.2"/>
<text x="508.70" y="682.20" font-size="10.6" fill="#111" text-anchor="middle">Time Point [min]</text>
<text transform="translate(348.30,573.70) rotate(-90)" font-size="10.6" fill="#111" text-anchor="middle">Switching (MATα) level [%]</text>
<text x="508.60" y="492.40" font-size="12.0" fill="#111" text-anchor="middle">Switching quantification by FC (Aurora)</text>
<text x="332.00" y="487.60" font-size="10.2" fill="#000">E</text>
<text transform="translate(370.80,526.50) rotate(-33)" font-size="7.75" font-weight="bold" fill="#111">Raffinose</text>
<text transform="translate(404.70,526.50) rotate(-33)" font-size="8.0" font-weight="bold" fill="#e0202a">Galactose</text>
<text transform="translate(441.30,522.50) rotate(-33)" font-size="7.75" font-weight="bold" fill="#111">Glucose</text>
<rect x="569.90" y="500.20" width="18.50" height="8.2" fill="#bdbdbd" fill-opacity="0.6"/>
<line x1="569.90" x2="588.40" y1="504.30" y2="504.30" stroke="#1c1c1c" stroke-width="0.9"/>
<rect x="578.15" y="503.30" width="2.00" height="2.00" fill="#1c1c1c"/>
<text x="593.10" y="507.10" font-size="7.9" fill="#111">Uninduced</text>
<rect x="569.90" y="510.70" width="18.50" height="8.2" fill="#9dbcf5" fill-opacity="0.55"/>
<line x1="569.90" x2="588.40" y1="514.80" y2="514.80" stroke="#2c46aa" stroke-width="0.9"/>
<rect x="578.15" y="513.80" width="2.00" height="2.00" fill="#2c46aa"/>
<text x="593.10" y="517.60" font-size="7.9" fill="#111">Induced</text>
</g>
</svg>
</body></html>
